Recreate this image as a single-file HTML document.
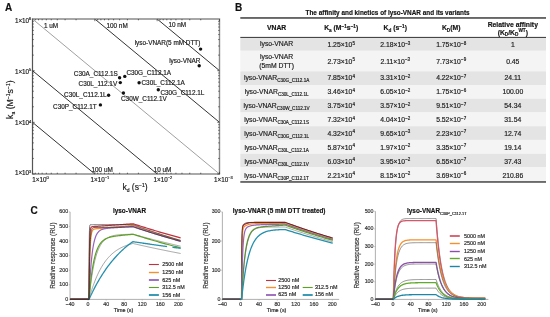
<!DOCTYPE html>
<html><head><meta charset="utf-8"><style>
html,body{margin:0;padding:0;background:#fff;width:550px;height:317px;overflow:hidden}
svg{display:block}
text{font-family:"Liberation Sans", sans-serif;stroke:#222;stroke-width:0.18px}
svg{will-change:transform}
</style></head><body>
<svg width="550" height="317" viewBox="0 0 550 317" font-family='"Liberation Sans", sans-serif'>
<text x="4.90" y="11.00" font-size="10" text-anchor="start" font-weight="bold" fill="#111" stroke="#111" >A</text>
<line x1="32.50" y1="19.00" x2="219.50" y2="174.00" stroke="#777" stroke-width="0.7"/>
<line x1="94.83" y1="19.00" x2="219.50" y2="122.33" stroke="#333" stroke-width="1.0"/>
<line x1="157.17" y1="19.00" x2="219.50" y2="70.67" stroke="#333" stroke-width="1.0"/>
<line x1="32.50" y1="70.67" x2="157.17" y2="174.00" stroke="#333" stroke-width="1.0"/>
<line x1="32.50" y1="122.33" x2="94.83" y2="174.00" stroke="#333" stroke-width="1.0"/>
<path d="M32.5,19.0H219.5V174.0" fill="none" stroke="#8a8a8a" stroke-width="1.4"/>
<path d="M32.5,18.4V174.0H220.1" fill="none" stroke="#555" stroke-width="1.2"/>
<path d="M94.83,174.0v-2.2M94.83,19.0v2.2M32.5,174.00h2.2M219.5,174.00h-2.2M76.07,174.0v-1.3M76.07,19.0v1.3M32.5,158.45h1.3M219.5,158.45h-1.3M65.09,174.0v-1.3M65.09,19.0v1.3M32.5,149.35h1.3M219.5,149.35h-1.3M57.30,174.0v-1.3M57.30,19.0v1.3M32.5,142.89h1.3M219.5,142.89h-1.3M51.26,174.0v-1.3M51.26,19.0v1.3M32.5,137.89h1.3M219.5,137.89h-1.3M46.33,174.0v-1.3M46.33,19.0v1.3M32.5,133.80h1.3M219.5,133.80h-1.3M42.16,174.0v-1.3M42.16,19.0v1.3M32.5,130.34h1.3M219.5,130.34h-1.3M38.54,174.0v-1.3M38.54,19.0v1.3M32.5,127.34h1.3M219.5,127.34h-1.3M35.35,174.0v-1.3M35.35,19.0v1.3M32.5,124.70h1.3M219.5,124.70h-1.3M157.17,174.0v-2.2M157.17,19.0v2.2M32.5,122.33h2.2M219.5,122.33h-2.2M138.40,174.0v-1.3M138.40,19.0v1.3M32.5,106.78h1.3M219.5,106.78h-1.3M127.43,174.0v-1.3M127.43,19.0v1.3M32.5,97.68h1.3M219.5,97.68h-1.3M119.64,174.0v-1.3M119.64,19.0v1.3M32.5,91.23h1.3M219.5,91.23h-1.3M113.60,174.0v-1.3M113.60,19.0v1.3M32.5,86.22h1.3M219.5,86.22h-1.3M108.66,174.0v-1.3M108.66,19.0v1.3M32.5,82.13h1.3M219.5,82.13h-1.3M104.49,174.0v-1.3M104.49,19.0v1.3M32.5,78.67h1.3M219.5,78.67h-1.3M100.87,174.0v-1.3M100.87,19.0v1.3M32.5,75.67h1.3M219.5,75.67h-1.3M97.69,174.0v-1.3M97.69,19.0v1.3M32.5,73.03h1.3M219.5,73.03h-1.3M219.50,174.0v-2.2M219.50,19.0v2.2M32.5,70.67h2.2M219.5,70.67h-2.2M200.74,174.0v-1.3M200.74,19.0v1.3M32.5,55.11h1.3M219.5,55.11h-1.3M189.76,174.0v-1.3M189.76,19.0v1.3M32.5,46.02h1.3M219.5,46.02h-1.3M181.97,174.0v-1.3M181.97,19.0v1.3M32.5,39.56h1.3M219.5,39.56h-1.3M175.93,174.0v-1.3M175.93,19.0v1.3M32.5,34.55h1.3M219.5,34.55h-1.3M171.00,174.0v-1.3M171.00,19.0v1.3M32.5,30.46h1.3M219.5,30.46h-1.3M166.82,174.0v-1.3M166.82,19.0v1.3M32.5,27.00h1.3M219.5,27.00h-1.3M163.21,174.0v-1.3M163.21,19.0v1.3M32.5,24.01h1.3M219.5,24.01h-1.3M160.02,174.0v-1.3M160.02,19.0v1.3M32.5,21.36h1.3M219.5,21.36h-1.3" stroke="#333" stroke-width="0.7" fill="none"/>
<text x="31.30" y="22.70" font-size="6.3" text-anchor="end" font-weight="normal" fill="#222" stroke="#222" >1×10<tspan dy="-2.4" font-size="4.0">6</tspan></text>
<text x="31.30" y="73.50" font-size="6.3" text-anchor="end" font-weight="normal" fill="#222" stroke="#222" >1×10<tspan dy="-2.4" font-size="4.0">5</tspan></text>
<text x="31.30" y="125.30" font-size="6.3" text-anchor="end" font-weight="normal" fill="#222" stroke="#222" >1×10<tspan dy="-2.4" font-size="4.0">4</tspan></text>
<text x="31.30" y="175.10" font-size="6.3" text-anchor="end" font-weight="normal" fill="#222" stroke="#222" >1×10<tspan dy="-2.4" font-size="4.0">3</tspan></text>
<text x="32.30" y="181.80" font-size="6.3" text-anchor="start" font-weight="normal" fill="#222" stroke="#222" >1×10<tspan dy="-2.4" font-size="4.0">0</tspan></text>
<text x="90.50" y="181.80" font-size="6.3" text-anchor="start" font-weight="normal" fill="#222" stroke="#222" >1×10<tspan dy="-2.4" font-size="4.0">−1</tspan></text>
<text x="153.60" y="181.80" font-size="6.3" text-anchor="start" font-weight="normal" fill="#222" stroke="#222" >1×10<tspan dy="-2.4" font-size="4.0">−2</tspan></text>
<text x="214.00" y="181.80" font-size="6.3" text-anchor="start" font-weight="normal" fill="#222" stroke="#222" >1×10<tspan dy="-2.4" font-size="4.0">−3</tspan></text>
<text x="122.40" y="190.00" font-size="8.6" text-anchor="start" font-weight="normal" fill="#222" stroke="#222" >k<tspan dy="1.6" font-size="5.0">d</tspan><tspan dy="-1.6"> (s</tspan><tspan dy="-3.0" font-size="5.0">−1</tspan><tspan dy="3.0">)</tspan></text>
<text transform="translate(13.0,119.0) rotate(-90)" font-size="8.8" fill="#222">k<tspan dy="1.6" font-size="5.0">a</tspan><tspan dy="-1.6"> (M</tspan><tspan dy="-3.0" font-size="5.0">−1</tspan><tspan dy="3.0">s</tspan><tspan dy="-3.0" font-size="5.0">−1</tspan><tspan dy="3.0">)</tspan></text>
<text x="43.90" y="28.20" font-size="6.4" text-anchor="start" font-weight="normal" fill="#222" stroke="#222" >1 uM</text>
<text x="106.40" y="28.20" font-size="6.4" text-anchor="start" font-weight="normal" fill="#222" stroke="#222" >100 nM</text>
<text x="168.40" y="27.20" font-size="6.4" text-anchor="start" font-weight="normal" fill="#222" stroke="#222" >10 nM</text>
<text x="91.50" y="171.50" font-size="6.4" text-anchor="start" font-weight="normal" fill="#222" stroke="#222" >100 uM</text>
<text x="153.60" y="171.50" font-size="6.4" text-anchor="start" font-weight="normal" fill="#222" stroke="#222" >10 uM</text>
<circle cx="199.2" cy="65.8" r="1.7" fill="#111"/>
<circle cx="200.6" cy="49.1" r="1.7" fill="#111"/>
<circle cx="119.6" cy="77.7" r="1.7" fill="#111"/>
<circle cx="124.8" cy="76.4" r="1.7" fill="#111"/>
<circle cx="120.3" cy="82.6" r="1.7" fill="#111"/>
<circle cx="139.1" cy="82.7" r="1.7" fill="#111"/>
<circle cx="123.4" cy="93.0" r="1.7" fill="#111"/>
<circle cx="108.6" cy="95.2" r="1.7" fill="#111"/>
<circle cx="100.4" cy="104.9" r="1.7" fill="#111"/>
<circle cx="158.3" cy="89.7" r="1.7" fill="#111"/>
<text x="200.40" y="45.20" font-size="6.4" text-anchor="end" font-weight="normal" fill="#222" stroke="#222" >lyso-VNAR(5 mM DTT)</text>
<text x="200.40" y="63.40" font-size="6.4" text-anchor="end" font-weight="normal" fill="#222" stroke="#222" >lyso-VNAR</text>
<text x="117.80" y="75.70" font-size="6.4" text-anchor="end" font-weight="normal" fill="#222" stroke="#222" >C30A_C112.1S</text>
<text x="126.40" y="75.00" font-size="6.4" text-anchor="start" font-weight="normal" fill="#222" stroke="#222" >C30G_C112.1A</text>
<text x="117.20" y="85.60" font-size="6.4" text-anchor="end" font-weight="normal" fill="#222" stroke="#222" >C30L_112.1V</text>
<text x="141.50" y="84.80" font-size="6.4" text-anchor="start" font-weight="normal" fill="#222" stroke="#222" >C30L_C112.1A</text>
<text x="121.00" y="101.00" font-size="6.4" text-anchor="start" font-weight="normal" fill="#222" stroke="#222" >C30W_C112.1V</text>
<text x="106.60" y="97.00" font-size="6.4" text-anchor="end" font-weight="normal" fill="#222" stroke="#222" >C30L_C112.1L</text>
<text x="96.60" y="108.50" font-size="6.4" text-anchor="end" font-weight="normal" fill="#222" stroke="#222" >C30P_C112.1T</text>
<text x="160.40" y="94.80" font-size="6.4" text-anchor="start" font-weight="normal" fill="#222" stroke="#222" >C30G_C112.1L</text>
<text x="234.90" y="10.90" font-size="10" text-anchor="start" font-weight="bold" fill="#111" stroke="#111" >B</text>
<text x="387.60" y="14.50" font-size="6.4" text-anchor="middle" font-weight="bold" fill="#111" stroke="#111" >The affinity and kinetics of lyso-VNAR and its variants</text>
<rect x="240.3" y="37.80" width="305.7" height="13.00" fill="#e4e4e4"/>
<rect x="240.3" y="50.80" width="305.7" height="20.50" fill="#f4f4f4"/>
<rect x="240.3" y="71.30" width="305.7" height="13.72" fill="#e4e4e4"/>
<rect x="240.3" y="85.02" width="305.7" height="13.73" fill="#f4f4f4"/>
<rect x="240.3" y="98.75" width="305.7" height="13.72" fill="#e4e4e4"/>
<rect x="240.3" y="112.47" width="305.7" height="13.72" fill="#f4f4f4"/>
<rect x="240.3" y="126.20" width="305.7" height="13.73" fill="#e4e4e4"/>
<rect x="240.3" y="139.93" width="305.7" height="13.72" fill="#f4f4f4"/>
<rect x="240.3" y="153.65" width="305.7" height="13.73" fill="#e4e4e4"/>
<rect x="240.3" y="167.38" width="305.7" height="13.72" fill="#f4f4f4"/>
<rect x="240.3" y="17.0" width="305.7" height="1.9" fill="#666"/>
<rect x="240.3" y="36.9" width="305.7" height="1.0" fill="#333"/>
<rect x="240.3" y="181.1" width="305.7" height="1.7" fill="#5a5a5a"/>
<text x="276.60" y="30.40" font-size="6.8" text-anchor="middle" font-weight="bold" fill="#111" stroke="#111" >VNAR</text>
<text x="341.20" y="30.40" font-size="6.8" text-anchor="middle" font-weight="bold" fill="#111" stroke="#111" >K<tspan dy="1.7" font-size="4.7">a</tspan><tspan dy="-1.7"> (M</tspan><tspan dy="-2.4" font-size="4.7">−1</tspan><tspan dy="2.4">s</tspan><tspan dy="-2.4" font-size="4.7">−1</tspan><tspan dy="2.4">)</tspan></text>
<text x="395.30" y="30.40" font-size="6.8" text-anchor="middle" font-weight="bold" fill="#111" stroke="#111" >K<tspan dy="1.7" font-size="4.7">d</tspan><tspan dy="-1.7"> (s</tspan><tspan dy="-2.4" font-size="4.7">−1</tspan><tspan dy="2.4">)</tspan></text>
<text x="451.20" y="30.40" font-size="6.8" text-anchor="middle" font-weight="bold" fill="#111" stroke="#111" >K<tspan dy="1.7" font-size="4.7">D</tspan><tspan dy="-1.7">(M)</tspan></text>
<text x="512.80" y="26.70" font-size="6.8" text-anchor="middle" font-weight="bold" fill="#111" stroke="#111" >Relative affinity</text>
<text x="512.80" y="34.60" font-size="6.8" text-anchor="middle" font-weight="bold" fill="#111" stroke="#111" >(K<tspan dy="1.7" font-size="4.7">D</tspan><tspan dy="-1.7">/K</tspan><tspan dy="1.7" font-size="4.7">D</tspan><tspan dy="-4.1" font-size="4.7">WT</tspan><tspan dy="2.4">)</tspan></text>
<text x="276.60" y="46.45" font-size="6.8" text-anchor="middle" font-weight="normal" fill="#222" stroke="#222" >lyso-VNAR</text>
<text x="341.20" y="47.45" font-size="6.8" text-anchor="middle" font-weight="normal" fill="#222" stroke="#222" >1.25×10<tspan dx="0.2" dy="-2.5" font-size="4.5">5</tspan></text>
<text x="395.30" y="47.45" font-size="6.8" text-anchor="middle" font-weight="normal" fill="#222" stroke="#222" >2.18×10<tspan dx="0.2" dy="-2.5" font-size="4.5">−3</tspan></text>
<text x="451.20" y="47.45" font-size="6.8" text-anchor="middle" font-weight="normal" fill="#222" stroke="#222" >1.75×10<tspan dx="0.2" dy="-2.5" font-size="4.5">−8</tspan></text>
<text x="512.80" y="47.45" font-size="6.8" text-anchor="middle" font-weight="normal" fill="#222" stroke="#222" >1</text>
<text x="276.60" y="59.45" font-size="6.8" text-anchor="middle" font-weight="normal" fill="#222" stroke="#222" >lyso-VNAR</text>
<text x="276.60" y="67.65" font-size="6.8" text-anchor="middle" font-weight="normal" fill="#222" stroke="#222" >(5mM DTT)</text>
<text x="341.20" y="63.90" font-size="6.8" text-anchor="middle" font-weight="normal" fill="#222" stroke="#222" >2.73×10<tspan dx="0.2" dy="-2.5" font-size="4.5">5</tspan></text>
<text x="395.30" y="63.90" font-size="6.8" text-anchor="middle" font-weight="normal" fill="#222" stroke="#222" >2.11×10<tspan dx="0.2" dy="-2.5" font-size="4.5">−3</tspan></text>
<text x="451.20" y="63.90" font-size="6.8" text-anchor="middle" font-weight="normal" fill="#222" stroke="#222" >7.73×10<tspan dx="0.2" dy="-2.5" font-size="4.5">−9</tspan></text>
<text x="512.80" y="63.90" font-size="6.8" text-anchor="middle" font-weight="normal" fill="#222" stroke="#222" >0.45</text>
<text x="276.60" y="80.31" font-size="6.8" text-anchor="middle" font-weight="normal" fill="#222" stroke="#222" >lyso-VNAR<tspan dy="2.0" font-size="4.6">C30G_C112.1A</tspan></text>
<text x="341.20" y="80.31" font-size="6.8" text-anchor="middle" font-weight="normal" fill="#222" stroke="#222" >7.85×10<tspan dx="0.2" dy="-2.5" font-size="4.5">4</tspan></text>
<text x="395.30" y="80.31" font-size="6.8" text-anchor="middle" font-weight="normal" fill="#222" stroke="#222" >3.31×10<tspan dx="0.2" dy="-2.5" font-size="4.5">−2</tspan></text>
<text x="451.20" y="80.31" font-size="6.8" text-anchor="middle" font-weight="normal" fill="#222" stroke="#222" >4.22×10<tspan dx="0.2" dy="-2.5" font-size="4.5">−7</tspan></text>
<text x="512.80" y="80.31" font-size="6.8" text-anchor="middle" font-weight="normal" fill="#222" stroke="#222" >24.11</text>
<text x="276.60" y="94.22" font-size="6.8" text-anchor="middle" font-weight="normal" fill="#222" stroke="#222" >lyso-VNAR<tspan dy="2.0" font-size="4.6">C30L_C112.1L</tspan></text>
<text x="341.20" y="94.22" font-size="6.8" text-anchor="middle" font-weight="normal" fill="#222" stroke="#222" >3.46×10<tspan dx="0.2" dy="-2.5" font-size="4.5">4</tspan></text>
<text x="395.30" y="94.22" font-size="6.8" text-anchor="middle" font-weight="normal" fill="#222" stroke="#222" >6.05×10<tspan dx="0.2" dy="-2.5" font-size="4.5">−2</tspan></text>
<text x="451.20" y="94.22" font-size="6.8" text-anchor="middle" font-weight="normal" fill="#222" stroke="#222" >1.75×10<tspan dx="0.2" dy="-2.5" font-size="4.5">−6</tspan></text>
<text x="512.80" y="94.22" font-size="6.8" text-anchor="middle" font-weight="normal" fill="#222" stroke="#222" >100.00</text>
<text x="276.60" y="108.13" font-size="6.8" text-anchor="middle" font-weight="normal" fill="#222" stroke="#222" >lyso-VNAR<tspan dy="2.0" font-size="4.6">C30W_C112.1V</tspan></text>
<text x="341.20" y="108.13" font-size="6.8" text-anchor="middle" font-weight="normal" fill="#222" stroke="#222" >3.75×10<tspan dx="0.2" dy="-2.5" font-size="4.5">4</tspan></text>
<text x="395.30" y="108.13" font-size="6.8" text-anchor="middle" font-weight="normal" fill="#222" stroke="#222" >3.57×10<tspan dx="0.2" dy="-2.5" font-size="4.5">−2</tspan></text>
<text x="451.20" y="108.13" font-size="6.8" text-anchor="middle" font-weight="normal" fill="#222" stroke="#222" >9.51×10<tspan dx="0.2" dy="-2.5" font-size="4.5">−7</tspan></text>
<text x="512.80" y="108.13" font-size="6.8" text-anchor="middle" font-weight="normal" fill="#222" stroke="#222" >54.34</text>
<text x="276.60" y="122.04" font-size="6.8" text-anchor="middle" font-weight="normal" fill="#222" stroke="#222" >lyso-VNAR<tspan dy="2.0" font-size="4.6">C30A_C112.1S</tspan></text>
<text x="341.20" y="122.04" font-size="6.8" text-anchor="middle" font-weight="normal" fill="#222" stroke="#222" >7.32×10<tspan dx="0.2" dy="-2.5" font-size="4.5">4</tspan></text>
<text x="395.30" y="122.04" font-size="6.8" text-anchor="middle" font-weight="normal" fill="#222" stroke="#222" >4.04×10<tspan dx="0.2" dy="-2.5" font-size="4.5">−2</tspan></text>
<text x="451.20" y="122.04" font-size="6.8" text-anchor="middle" font-weight="normal" fill="#222" stroke="#222" >5.52×10<tspan dx="0.2" dy="-2.5" font-size="4.5">−7</tspan></text>
<text x="512.80" y="122.04" font-size="6.8" text-anchor="middle" font-weight="normal" fill="#222" stroke="#222" >31.54</text>
<text x="276.60" y="135.96" font-size="6.8" text-anchor="middle" font-weight="normal" fill="#222" stroke="#222" >lyso-VNAR<tspan dy="2.0" font-size="4.6">C30G_C112.1L</tspan></text>
<text x="341.20" y="135.96" font-size="6.8" text-anchor="middle" font-weight="normal" fill="#222" stroke="#222" >4.32×10<tspan dx="0.2" dy="-2.5" font-size="4.5">4</tspan></text>
<text x="395.30" y="135.96" font-size="6.8" text-anchor="middle" font-weight="normal" fill="#222" stroke="#222" >9.65×10<tspan dx="0.2" dy="-2.5" font-size="4.5">−3</tspan></text>
<text x="451.20" y="135.96" font-size="6.8" text-anchor="middle" font-weight="normal" fill="#222" stroke="#222" >2.23×10<tspan dx="0.2" dy="-2.5" font-size="4.5">−7</tspan></text>
<text x="512.80" y="135.96" font-size="6.8" text-anchor="middle" font-weight="normal" fill="#222" stroke="#222" >12.74</text>
<text x="276.60" y="149.87" font-size="6.8" text-anchor="middle" font-weight="normal" fill="#222" stroke="#222" >lyso-VNAR<tspan dy="2.0" font-size="4.6">C30L_C112.1A</tspan></text>
<text x="341.20" y="149.87" font-size="6.8" text-anchor="middle" font-weight="normal" fill="#222" stroke="#222" >5.87×10<tspan dx="0.2" dy="-2.5" font-size="4.5">4</tspan></text>
<text x="395.30" y="149.87" font-size="6.8" text-anchor="middle" font-weight="normal" fill="#222" stroke="#222" >1.97×10<tspan dx="0.2" dy="-2.5" font-size="4.5">−2</tspan></text>
<text x="451.20" y="149.87" font-size="6.8" text-anchor="middle" font-weight="normal" fill="#222" stroke="#222" >3.35×10<tspan dx="0.2" dy="-2.5" font-size="4.5">−7</tspan></text>
<text x="512.80" y="149.87" font-size="6.8" text-anchor="middle" font-weight="normal" fill="#222" stroke="#222" >19.14</text>
<text x="276.60" y="163.78" font-size="6.8" text-anchor="middle" font-weight="normal" fill="#222" stroke="#222" >lyso-VNAR<tspan dy="2.0" font-size="4.6">C30L_C112.1V</tspan></text>
<text x="341.20" y="163.78" font-size="6.8" text-anchor="middle" font-weight="normal" fill="#222" stroke="#222" >6.03×10<tspan dx="0.2" dy="-2.5" font-size="4.5">4</tspan></text>
<text x="395.30" y="163.78" font-size="6.8" text-anchor="middle" font-weight="normal" fill="#222" stroke="#222" >3.95×10<tspan dx="0.2" dy="-2.5" font-size="4.5">−2</tspan></text>
<text x="451.20" y="163.78" font-size="6.8" text-anchor="middle" font-weight="normal" fill="#222" stroke="#222" >6.55×10<tspan dx="0.2" dy="-2.5" font-size="4.5">−7</tspan></text>
<text x="512.80" y="163.78" font-size="6.8" text-anchor="middle" font-weight="normal" fill="#222" stroke="#222" >37.43</text>
<text x="276.60" y="177.69" font-size="6.8" text-anchor="middle" font-weight="normal" fill="#222" stroke="#222" >lyso-VNAR<tspan dy="2.0" font-size="4.6">C30P_C112.1T</tspan></text>
<text x="341.20" y="177.69" font-size="6.8" text-anchor="middle" font-weight="normal" fill="#222" stroke="#222" >2.21×10<tspan dx="0.2" dy="-2.5" font-size="4.5">4</tspan></text>
<text x="395.30" y="177.69" font-size="6.8" text-anchor="middle" font-weight="normal" fill="#222" stroke="#222" >8.15×10<tspan dx="0.2" dy="-2.5" font-size="4.5">−2</tspan></text>
<text x="451.20" y="177.69" font-size="6.8" text-anchor="middle" font-weight="normal" fill="#222" stroke="#222" >3.69×10<tspan dx="0.2" dy="-2.5" font-size="4.5">−6</tspan></text>
<text x="512.80" y="177.69" font-size="6.8" text-anchor="middle" font-weight="normal" fill="#222" stroke="#222" >210.86</text>
<text x="30.40" y="213.80" font-size="10" text-anchor="start" font-weight="bold" fill="#111" stroke="#111" >C</text>
<path d="M70.05,211.86V299.40H185.13" stroke="#9a9a9a" stroke-width="0.8" fill="none"/>
<text x="68.15" y="300.90" font-size="5.3" text-anchor="end" font-weight="normal" fill="#484848" stroke="#484848" >0</text>
<text x="68.15" y="286.31" font-size="5.3" text-anchor="end" font-weight="normal" fill="#484848" stroke="#484848" >100</text>
<text x="68.15" y="271.72" font-size="5.3" text-anchor="end" font-weight="normal" fill="#484848" stroke="#484848" >200</text>
<text x="68.15" y="257.13" font-size="5.3" text-anchor="end" font-weight="normal" fill="#484848" stroke="#484848" >300</text>
<text x="68.15" y="242.54" font-size="5.3" text-anchor="end" font-weight="normal" fill="#484848" stroke="#484848" >400</text>
<text x="68.15" y="227.95" font-size="5.3" text-anchor="end" font-weight="normal" fill="#484848" stroke="#484848" >500</text>
<text x="68.15" y="213.36" font-size="5.3" text-anchor="end" font-weight="normal" fill="#484848" stroke="#484848" >600</text>
<text x="70.05" y="305.70" font-size="5.3" text-anchor="middle" font-weight="normal" fill="#484848" stroke="#484848" >−40</text>
<text x="88.10" y="305.70" font-size="5.3" text-anchor="middle" font-weight="normal" fill="#484848" stroke="#484848" >0</text>
<text x="106.15" y="305.70" font-size="5.3" text-anchor="middle" font-weight="normal" fill="#484848" stroke="#484848" >40</text>
<text x="124.20" y="305.70" font-size="5.3" text-anchor="middle" font-weight="normal" fill="#484848" stroke="#484848" >80</text>
<text x="142.26" y="305.70" font-size="5.3" text-anchor="middle" font-weight="normal" fill="#484848" stroke="#484848" >120</text>
<text x="160.31" y="305.70" font-size="5.3" text-anchor="middle" font-weight="normal" fill="#484848" stroke="#484848" >160</text>
<text x="178.36" y="305.70" font-size="5.3" text-anchor="middle" font-weight="normal" fill="#484848" stroke="#484848" >200</text>
<path d="M70.05,299.40h-1.2M70.05,284.81h-1.2M70.05,270.22h-1.2M70.05,255.63h-1.2M70.05,241.04h-1.2M70.05,226.45h-1.2M70.05,211.86h-1.2M70.05,299.40v1.2M88.10,299.40v1.2M106.15,299.40v1.2M124.20,299.40v1.2M142.26,299.40v1.2M160.31,299.40v1.2M178.36,299.40v1.2" stroke="#9a9a9a" stroke-width="0.5" fill="none"/>
<text x="123.50" y="311.80" font-size="5.4" text-anchor="middle" font-weight="normal" fill="#333" stroke="#333" >Time (s)</text>
<text transform="translate(54.60,255.63) rotate(-90)" font-size="6.4" text-anchor="middle" fill="#444" stroke="#444" stroke-width="0.1">Relative response (RU)</text>
<text x="129.5" y="212.5" font-size="6.4" font-weight="bold" text-anchor="middle" fill="#111">lyso-VNAR</text>
<path d="M70.05,299.40 L89.00,299.40 L89.12,283.35 L89.23,270.85 L89.34,261.12 L89.45,253.53 L89.57,247.62 L89.68,243.02 L89.79,239.43 L89.91,236.64 L90.02,234.46 L90.13,232.76 L90.24,231.43 L90.36,230.40 L90.47,229.59 L90.58,228.97 L90.69,228.47 L90.81,228.09 L90.92,227.79 L91.03,227.55 L91.15,227.36 L91.26,227.22 L91.37,227.10 L91.48,227.01 L91.60,226.93 L91.71,226.87 L91.82,226.83 L91.94,226.79 L92.05,226.76 L92.16,226.73 L92.27,226.71 L92.39,226.69 L92.50,226.67 L92.61,226.66 L92.73,226.64 L92.84,226.63 L92.95,226.62 L93.06,226.61 L93.18,226.60 L93.29,226.59 L93.40,226.58 L93.52,226.57 L93.97,226.54 L94.87,226.47 L95.77,226.41 L96.67,226.34 L97.58,226.28 L98.48,226.21 L99.38,226.15 L100.29,226.09 L101.19,226.02 L102.09,225.96 L102.99,225.89 L103.90,225.83 L104.80,225.76 L105.70,225.70 L106.60,225.64 L107.51,225.57 L108.41,225.51 L109.31,225.44 L110.21,225.38 L111.12,225.31 L112.02,225.25 L112.92,225.19 L113.82,225.12 L114.73,225.06 L115.63,224.99 L116.53,224.93 L117.43,224.87 L118.34,224.80 L119.24,224.74 L120.14,224.67 L121.04,224.61 L121.95,224.54 L122.85,224.48 L123.75,224.42 L124.66,224.35 L125.56,224.29 L126.46,224.22 L127.36,224.16 L128.27,224.10 L129.17,224.03 L130.07,223.97 L130.97,223.90 L131.88,223.84 L132.78,223.77 L133.46,223.85 L133.68,223.92 L134.13,224.07 L134.58,224.22 L135.49,224.52 L136.39,224.81 L137.29,225.10 L138.19,225.40 L139.10,225.69 L140.00,225.98 L140.90,226.26 L141.80,226.55 L142.71,226.84 L143.61,227.12 L144.51,227.41 L145.42,227.69 L146.32,227.97 L147.22,228.25 L148.12,228.53 L149.03,228.81 L149.93,229.09 L150.83,229.37 L151.73,229.64 L152.64,229.92 L153.54,230.19 L154.44,230.46 L155.34,230.73 L156.25,231.00 L157.15,231.27 L158.05,231.54 L158.95,231.81 L159.86,232.07 L160.76,232.34 L161.66,232.60 L162.56,232.86 L163.47,233.13 L164.37,233.39 L165.27,233.65 L166.17,233.90 L167.08,234.16 L167.98,234.42 L168.88,234.67 L169.79,234.93 L170.69,235.18 L171.59,235.43 L172.49,235.69 L173.40,235.94 L174.30,236.19 L175.20,236.43 L176.10,236.68 L177.01,236.93 L177.91,237.17 L178.81,237.42 L179.71,237.66 L180.62,237.91" stroke="#c2323e" stroke-width="1.2" fill="none" stroke-linejoin="round"/>
<path d="M70.05,299.40 L89.00,299.40 L89.12,291.16 L89.23,283.89 L89.34,277.47 L89.45,271.81 L89.57,266.80 L89.68,262.39 L89.79,258.49 L89.91,255.05 L90.02,252.02 L90.13,249.33 L90.24,246.97 L90.36,244.88 L90.47,243.03 L90.58,241.40 L90.69,239.96 L90.81,238.69 L90.92,237.56 L91.03,236.57 L91.15,235.69 L91.26,234.92 L91.37,234.23 L91.48,233.63 L91.60,233.09 L91.71,232.62 L91.82,232.20 L91.94,231.83 L92.05,231.50 L92.16,231.21 L92.27,230.95 L92.39,230.72 L92.50,230.52 L92.61,230.34 L92.73,230.17 L92.84,230.03 L92.95,229.90 L93.06,229.79 L93.18,229.69 L93.29,229.60 L93.40,229.52 L93.52,229.45 L93.97,229.22 L94.87,228.96 L95.77,228.82 L96.67,228.71 L97.58,228.62 L98.48,228.54 L99.38,228.46 L100.29,228.38 L101.19,228.30 L102.09,228.23 L102.99,228.15 L103.90,228.07 L104.80,227.99 L105.70,227.91 L106.60,227.83 L107.51,227.75 L108.41,227.67 L109.31,227.60 L110.21,227.52 L111.12,227.44 L112.02,227.36 L112.92,227.28 L113.82,227.20 L114.73,227.12 L115.63,227.04 L116.53,226.97 L117.43,226.89 L118.34,226.81 L119.24,226.73 L120.14,226.65 L121.04,226.57 L121.95,226.49 L122.85,226.41 L123.75,226.33 L124.66,226.26 L125.56,226.18 L126.46,226.10 L127.36,226.02 L128.27,225.94 L129.17,225.86 L130.07,225.78 L130.97,225.70 L131.88,225.63 L132.78,225.55 L133.46,225.63 L133.68,225.71 L134.13,225.87 L134.58,226.02 L135.49,226.34 L136.39,226.66 L137.29,226.97 L138.19,227.28 L139.10,227.59 L140.00,227.90 L140.90,228.21 L141.80,228.52 L142.71,228.82 L143.61,229.13 L144.51,229.43 L145.42,229.73 L146.32,230.03 L147.22,230.33 L148.12,230.63 L149.03,230.92 L149.93,231.22 L150.83,231.51 L151.73,231.81 L152.64,232.10 L153.54,232.39 L154.44,232.68 L155.34,232.96 L156.25,233.25 L157.15,233.54 L158.05,233.82 L158.95,234.10 L159.86,234.38 L160.76,234.66 L161.66,234.94 L162.56,235.22 L163.47,235.50 L164.37,235.77 L165.27,236.05 L166.17,236.32 L167.08,236.59 L167.98,236.86 L168.88,237.13 L169.79,237.40 L170.69,237.67 L171.59,237.93 L172.49,238.20 L173.40,238.46 L174.30,238.73 L175.20,238.99 L176.10,239.25 L177.01,239.51 L177.91,239.77 L178.81,240.02 L179.71,240.28 L180.62,240.53" stroke="#f5902f" stroke-width="1.2" fill="none" stroke-linejoin="round"/>
<path d="M70.05,299.40 L89.00,299.40 L89.12,296.82 L89.23,294.33 L89.34,291.93 L89.45,289.62 L89.57,287.39 L89.68,285.25 L89.79,283.18 L89.91,281.19 L90.02,279.27 L90.13,277.43 L90.24,275.65 L90.36,273.93 L90.47,272.28 L90.58,270.69 L90.69,269.16 L90.81,267.69 L90.92,266.26 L91.03,264.89 L91.15,263.57 L91.26,262.30 L91.37,261.08 L91.48,259.90 L91.60,258.76 L91.71,257.67 L91.82,256.61 L91.94,255.59 L92.05,254.61 L92.16,253.67 L92.27,252.76 L92.39,251.89 L92.50,251.04 L92.61,250.23 L92.73,249.44 L92.84,248.69 L92.95,247.96 L93.06,247.26 L93.18,246.58 L93.29,245.93 L93.40,245.31 L93.52,244.70 L93.97,242.50 L94.87,238.95 L95.77,236.31 L96.67,234.34 L97.58,232.86 L98.48,231.76 L99.38,230.92 L100.29,230.29 L101.19,229.80 L102.09,229.43 L102.99,229.13 L103.90,228.90 L104.80,228.71 L105.70,228.56 L106.60,228.43 L107.51,228.32 L108.41,228.22 L109.31,228.14 L110.21,228.06 L111.12,227.98 L112.02,227.91 L112.92,227.85 L113.82,227.78 L114.73,227.72 L115.63,227.66 L116.53,227.60 L117.43,227.54 L118.34,227.48 L119.24,227.42 L120.14,227.36 L121.04,227.30 L121.95,227.24 L122.85,227.18 L123.75,227.12 L124.66,227.06 L125.56,227.00 L126.46,226.95 L127.36,226.89 L128.27,226.83 L129.17,226.77 L130.07,226.71 L130.97,226.65 L131.88,226.60 L132.78,226.54 L133.46,226.62 L133.68,226.69 L134.13,226.85 L134.58,227.01 L135.49,227.32 L136.39,227.63 L137.29,227.94 L138.19,228.25 L139.10,228.56 L140.00,228.86 L140.90,229.16 L141.80,229.47 L142.71,229.77 L143.61,230.07 L144.51,230.37 L145.42,230.67 L146.32,230.96 L147.22,231.26 L148.12,231.55 L149.03,231.84 L149.93,232.13 L150.83,232.42 L151.73,232.71 L152.64,233.00 L153.54,233.29 L154.44,233.57 L155.34,233.86 L156.25,234.14 L157.15,234.42 L158.05,234.70 L158.95,234.98 L159.86,235.26 L160.76,235.53 L161.66,235.81 L162.56,236.08 L163.47,236.35 L164.37,236.63 L165.27,236.90 L166.17,237.17 L167.08,237.43 L167.98,237.70 L168.88,237.97 L169.79,238.23 L170.69,238.50 L171.59,238.76 L172.49,239.02 L173.40,239.28 L174.30,239.54 L175.20,239.80 L176.10,240.05 L177.01,240.31 L177.91,240.57 L178.81,240.82 L179.71,241.07 L180.62,241.32" stroke="#9663b8" stroke-width="1.2" fill="none" stroke-linejoin="round"/>
<path d="M70.05,299.40 L89.00,299.40 L89.12,298.27 L89.23,297.16 L89.34,296.06 L89.45,294.99 L89.57,293.94 L89.68,292.90 L89.79,291.88 L89.91,290.88 L90.02,289.90 L90.13,288.93 L90.24,287.98 L90.36,287.05 L90.47,286.13 L90.58,285.23 L90.69,284.34 L90.81,283.47 L90.92,282.62 L91.03,281.78 L91.15,280.95 L91.26,280.14 L91.37,279.34 L91.48,278.56 L91.60,277.79 L91.71,277.03 L91.82,276.29 L91.94,275.56 L92.05,274.84 L92.16,274.14 L92.27,273.44 L92.39,272.76 L92.50,272.09 L92.61,271.44 L92.73,270.79 L92.84,270.15 L92.95,269.53 L93.06,268.92 L93.18,268.31 L93.29,267.72 L93.40,267.14 L93.52,266.57 L93.97,264.38 L94.87,260.43 L95.77,257.00 L96.67,254.02 L97.58,251.43 L98.48,249.18 L99.38,247.22 L100.29,245.52 L101.19,244.04 L102.09,242.75 L102.99,241.63 L103.90,240.66 L104.80,239.81 L105.70,239.08 L106.60,238.44 L107.51,237.88 L108.41,237.40 L109.31,236.98 L110.21,236.61 L111.12,236.29 L112.02,236.02 L112.92,235.78 L113.82,235.57 L114.73,235.39 L115.63,235.23 L116.53,235.09 L117.43,234.98 L118.34,234.87 L119.24,234.78 L120.14,234.70 L121.04,234.64 L121.95,234.58 L122.85,234.52 L123.75,234.48 L124.66,234.44 L125.56,234.41 L126.46,234.38 L127.36,234.35 L128.27,234.33 L129.17,234.31 L130.07,234.29 L130.97,234.28 L131.88,234.27 L132.78,234.26 L133.46,234.32 L133.68,234.38 L134.13,234.51 L134.58,234.63 L135.49,234.88 L136.39,235.13 L137.29,235.38 L138.19,235.62 L139.10,235.87 L140.00,236.11 L140.90,236.36 L141.80,236.60 L142.71,236.84 L143.61,237.08 L144.51,237.32 L145.42,237.56 L146.32,237.80 L147.22,238.04 L148.12,238.28 L149.03,238.51 L149.93,238.75 L150.83,238.98 L151.73,239.21 L152.64,239.44 L153.54,239.68 L154.44,239.91 L155.34,240.13 L156.25,240.36 L157.15,240.59 L158.05,240.82 L158.95,241.04 L159.86,241.27 L160.76,241.49 L161.66,241.71 L162.56,241.94 L163.47,242.16 L164.37,242.38 L165.27,242.60 L166.17,242.82 L167.08,243.03 L167.98,243.25 L168.88,243.47 L169.79,243.68 L170.69,243.90 L171.59,244.11 L172.49,244.33 L173.40,244.54 L174.30,244.75 L175.20,244.96 L176.10,245.17 L177.01,245.38 L177.91,245.59 L178.81,245.79 L179.71,246.00 L180.62,246.21" stroke="#6a6a6a" stroke-width="0.6" fill="none" stroke-linejoin="round"/>
<path d="M70.05,299.40 L89.00,299.40 L89.12,298.03 L89.23,296.68 L89.34,295.37 L89.45,294.09 L89.57,292.83 L89.68,291.60 L89.79,290.40 L89.91,289.23 L90.02,288.08 L90.13,286.95 L90.24,285.86 L90.36,284.78 L90.47,283.73 L90.58,282.70 L90.69,281.70 L90.81,280.72 L90.92,279.76 L91.03,278.82 L91.15,277.90 L91.26,277.00 L91.37,276.12 L91.48,275.26 L91.60,274.42 L91.71,273.60 L91.82,272.79 L91.94,272.00 L92.05,271.23 L92.16,270.48 L92.27,269.75 L92.39,269.03 L92.50,268.32 L92.61,267.63 L92.73,266.96 L92.84,266.30 L92.95,265.66 L93.06,265.03 L93.18,264.41 L93.29,263.81 L93.40,263.22 L93.52,262.64 L93.97,260.46 L94.87,256.63 L95.77,253.42 L96.67,250.72 L97.58,248.46 L98.48,246.55 L99.38,244.95 L100.29,243.60 L101.19,242.45 L102.09,241.49 L102.99,240.66 L103.90,239.97 L104.80,239.37 L105.70,238.86 L106.60,238.42 L107.51,238.04 L108.41,237.71 L109.31,237.42 L110.21,237.16 L111.12,236.94 L112.02,236.74 L112.92,236.55 L113.82,236.39 L114.73,236.24 L115.63,236.10 L116.53,235.97 L117.43,235.85 L118.34,235.74 L119.24,235.63 L120.14,235.53 L121.04,235.43 L121.95,235.33 L122.85,235.24 L123.75,235.15 L124.66,235.06 L125.56,234.97 L126.46,234.89 L127.36,234.80 L128.27,234.72 L129.17,234.64 L130.07,234.55 L130.97,234.47 L131.88,234.39 L132.78,234.31 L133.46,234.38 L133.68,234.46 L134.13,234.60 L134.58,234.74 L135.49,235.03 L136.39,235.31 L137.29,235.60 L138.19,235.88 L139.10,236.16 L140.00,236.44 L140.90,236.72 L141.80,237.00 L142.71,237.28 L143.61,237.55 L144.51,237.82 L145.42,238.10 L146.32,238.37 L147.22,238.64 L148.12,238.91 L149.03,239.18 L149.93,239.44 L150.83,239.71 L151.73,239.97 L152.64,240.24 L153.54,240.50 L154.44,240.76 L155.34,241.02 L156.25,241.28 L157.15,241.54 L158.05,241.79 L158.95,242.05 L159.86,242.30 L160.76,242.55 L161.66,242.81 L162.56,243.06 L163.47,243.31 L164.37,243.56 L165.27,243.80 L166.17,244.05 L167.08,244.29 L167.98,244.54 L168.88,244.78 L169.79,245.02 L170.69,245.26 L171.59,245.50 L172.49,245.74 L173.40,245.98 L174.30,246.22 L175.20,246.45 L176.10,246.69 L177.01,246.92 L177.91,247.15 L178.81,247.38 L179.71,247.62 L180.62,247.84" stroke="#5ca024" stroke-width="1.2" fill="none" stroke-linejoin="round"/>
<path d="M70.05,299.40 L89.00,299.40 L89.12,298.98 L89.23,298.57 L89.34,298.16 L89.45,297.75 L89.57,297.34 L89.68,296.94 L89.79,296.54 L89.91,296.14 L90.02,295.75 L90.13,295.36 L90.24,294.97 L90.36,294.58 L90.47,294.20 L90.58,293.82 L90.69,293.44 L90.81,293.06 L90.92,292.69 L91.03,292.32 L91.15,291.95 L91.26,291.59 L91.37,291.22 L91.48,290.86 L91.60,290.50 L91.71,290.15 L91.82,289.80 L91.94,289.45 L92.05,289.10 L92.16,288.75 L92.27,288.41 L92.39,288.07 L92.50,287.73 L92.61,287.40 L92.73,287.06 L92.84,286.73 L92.95,286.40 L93.06,286.08 L93.18,285.75 L93.29,285.43 L93.40,285.11 L93.52,284.79 L93.97,283.54 L94.87,281.15 L95.77,278.88 L96.67,276.74 L97.58,274.72 L98.48,272.81 L99.38,271.00 L100.29,269.29 L101.19,267.67 L102.09,266.14 L102.99,264.69 L103.90,263.32 L104.80,262.03 L105.70,260.81 L106.60,259.65 L107.51,258.56 L108.41,257.53 L109.31,256.55 L110.21,255.62 L111.12,254.75 L112.02,253.92 L112.92,253.14 L113.82,252.41 L114.73,251.71 L115.63,251.05 L116.53,250.42 L117.43,249.83 L118.34,249.27 L119.24,248.75 L120.14,248.25 L121.04,247.77 L121.95,247.33 L122.85,246.91 L123.75,246.51 L124.66,246.13 L125.56,245.77 L126.46,245.44 L127.36,245.12 L128.27,244.82 L129.17,244.53 L130.07,244.26 L130.97,244.01 L131.88,243.77 L132.78,243.54 L133.46,243.59 L133.68,243.64 L134.13,243.75 L134.58,243.85 L135.49,244.06 L136.39,244.26 L137.29,244.47 L138.19,244.67 L139.10,244.88 L140.00,245.08 L140.90,245.29 L141.80,245.49 L142.71,245.69 L143.61,245.89 L144.51,246.09 L145.42,246.29 L146.32,246.49 L147.22,246.68 L148.12,246.88 L149.03,247.08 L149.93,247.27 L150.83,247.47 L151.73,247.66 L152.64,247.85 L153.54,248.05 L154.44,248.24 L155.34,248.43 L156.25,248.62 L157.15,248.81 L158.05,249.00 L158.95,249.19 L159.86,249.37 L160.76,249.56 L161.66,249.75 L162.56,249.93 L163.47,250.12 L164.37,250.30 L165.27,250.48 L166.17,250.67 L167.08,250.85 L167.98,251.03 L168.88,251.21 L169.79,251.39 L170.69,251.57 L171.59,251.75 L172.49,251.92 L173.40,252.10 L174.30,252.28 L175.20,252.45 L176.10,252.63 L177.01,252.80 L177.91,252.98 L178.81,253.15 L179.71,253.32 L180.62,253.50" stroke="#6a6a6a" stroke-width="0.6" fill="none" stroke-linejoin="round"/>
<path d="M70.05,299.40 L89.00,299.40 L89.12,299.15 L89.23,298.90 L89.34,298.65 L89.45,298.41 L89.57,298.16 L89.68,297.92 L89.79,297.67 L89.91,297.43 L90.02,297.18 L90.13,296.94 L90.24,296.70 L90.36,296.46 L90.47,296.22 L90.58,295.98 L90.69,295.74 L90.81,295.50 L90.92,295.26 L91.03,295.02 L91.15,294.79 L91.26,294.55 L91.37,294.32 L91.48,294.08 L91.60,293.85 L91.71,293.62 L91.82,293.38 L91.94,293.15 L92.05,292.92 L92.16,292.69 L92.27,292.46 L92.39,292.23 L92.50,292.00 L92.61,291.78 L92.73,291.55 L92.84,291.32 L92.95,291.10 L93.06,290.87 L93.18,290.65 L93.29,290.43 L93.40,290.20 L93.52,289.98 L93.97,289.10 L94.87,287.37 L95.77,285.67 L96.67,284.02 L97.58,282.40 L98.48,280.83 L99.38,279.29 L100.29,277.78 L101.19,276.31 L102.09,274.88 L102.99,273.48 L103.90,272.11 L104.80,270.77 L105.70,269.46 L106.60,268.19 L107.51,266.94 L108.41,265.73 L109.31,264.54 L110.21,263.38 L111.12,262.24 L112.02,261.14 L112.92,260.05 L113.82,259.00 L114.73,257.97 L115.63,256.96 L116.53,255.98 L117.43,255.02 L118.34,254.08 L119.24,253.16 L120.14,252.27 L121.04,251.39 L121.95,250.54 L122.85,249.70 L123.75,248.89 L124.66,248.09 L125.56,247.32 L126.46,246.56 L127.36,245.82 L128.27,245.09 L129.17,244.38 L130.07,243.69 L130.97,243.02 L131.88,242.36 L132.78,241.72 L133.46,241.75 L133.68,241.78 L134.13,241.85 L134.58,241.92 L135.49,242.05 L136.39,242.18 L137.29,242.32 L138.19,242.45 L139.10,242.58 L140.00,242.71 L140.90,242.84 L141.80,242.97 L142.71,243.11 L143.61,243.24 L144.51,243.37 L145.42,243.50 L146.32,243.63 L147.22,243.75 L148.12,243.88 L149.03,244.01 L149.93,244.14 L150.83,244.27 L151.73,244.40 L152.64,244.52 L153.54,244.65 L154.44,244.78 L155.34,244.90 L156.25,245.03 L157.15,245.16 L158.05,245.28 L158.95,245.41 L159.86,245.53 L160.76,245.66 L161.66,245.78 L162.56,245.91 L163.47,246.03 L164.37,246.15 L165.27,246.28 L166.17,246.40 L167.08,246.52M172.49,247.25 L173.40,247.38 L174.30,247.50 L175.20,247.62 L176.10,247.74 L177.01,247.86 L177.91,247.98 L178.81,248.09 L179.71,248.21 L180.62,248.33" stroke="#2590ad" stroke-width="1.3" fill="none" stroke-linejoin="round"/>
<path d="M70.05,299.40 L89.00,299.40 L89.12,264.68 L89.23,246.10 L89.34,236.15 L89.45,230.83 L89.57,227.98 L89.68,226.46 L89.79,225.64 L89.91,225.20 L90.02,224.97 L90.13,224.84 L90.24,224.78 L90.36,224.74 L90.47,224.72 L90.58,224.71 L90.69,224.71 L90.81,224.70 L90.92,224.70 L91.03,224.70 L91.15,224.70 L91.26,224.70 L91.37,224.70 L91.48,224.70 L91.60,224.70 L91.71,224.70 L91.82,224.70 L91.94,224.70 L92.05,224.70 L92.16,224.70 L92.27,224.70 L92.39,224.70 L92.50,224.70 L92.61,224.70 L92.73,224.70 L92.84,224.70 L92.95,224.70 L93.06,224.70 L93.18,224.70 L93.29,224.70 L93.40,224.70 L93.52,224.70 L93.97,224.70 L94.87,224.70 L95.77,224.70 L96.67,224.70 L97.58,224.70 L98.48,224.70 L99.38,224.70 L100.29,224.70 L101.19,224.70 L102.09,224.70 L102.99,224.70 L103.90,224.70 L104.80,224.70 L105.70,224.70 L106.60,224.70 L107.51,224.70 L108.41,224.70 L109.31,224.70 L110.21,224.70 L111.12,224.70 L112.02,224.70 L112.92,224.70 L113.82,224.70 L114.73,224.70 L115.63,224.70 L116.53,224.70 L117.43,224.70 L118.34,224.70 L119.24,224.70 L120.14,224.70 L121.04,224.70 L121.95,224.70 L122.85,224.70 L123.75,224.70 L124.66,224.70 L125.56,224.70 L126.46,224.70 L127.36,224.70 L128.27,224.70 L129.17,224.70 L130.07,224.70 L130.97,224.70 L131.88,224.70 L132.78,224.70 L133.46,224.78 L133.68,224.87 L134.13,225.03 L134.58,225.20 L135.49,225.53 L136.39,225.87 L137.29,226.20 L138.19,226.53 L139.10,226.85 L140.00,227.18 L140.90,227.50 L141.80,227.83 L142.71,228.15 L143.61,228.47 L144.51,228.79 L145.42,229.10 L146.32,229.42 L147.22,229.73 L148.12,230.04 L149.03,230.36 L149.93,230.67 L150.83,230.97 L151.73,231.28 L152.64,231.59 L153.54,231.89 L154.44,232.20 L155.34,232.50 L156.25,232.80 L157.15,233.10 L158.05,233.39 L158.95,233.69 L159.86,233.99 L160.76,234.28 L161.66,234.57 L162.56,234.86 L163.47,235.15 L164.37,235.44 L165.27,235.73 L166.17,236.01 L167.08,236.30 L167.98,236.58 L168.88,236.86 L169.79,237.14 L170.69,237.42 L171.59,237.70 L172.49,237.98 L173.40,238.26 L174.30,238.53 L175.20,238.80 L176.10,239.08 L177.01,239.35 L177.91,239.62 L178.81,239.88 L179.71,240.15 L180.62,240.42" stroke="#333333" stroke-width="0.7" fill="none" stroke-linejoin="round"/>
<path d="M70.05,299.40 L89.00,299.40 L89.12,289.40 L89.23,280.79 L89.34,273.38 L89.45,267.01 L89.57,261.52 L89.68,256.79 L89.79,252.72 L89.91,249.22 L90.02,246.21 L90.13,243.62 L90.24,241.38 L90.36,239.46 L90.47,237.81 L90.58,236.38 L90.69,235.16 L90.81,234.10 L90.92,233.19 L91.03,232.41 L91.15,231.73 L91.26,231.15 L91.37,230.65 L91.48,230.22 L91.60,229.85 L91.71,229.53 L91.82,229.26 L91.94,229.02 L92.05,228.82 L92.16,228.64 L92.27,228.49 L92.39,228.36 L92.50,228.25 L92.61,228.15 L92.73,228.07 L92.84,227.99 L92.95,227.93 L93.06,227.88 L93.18,227.83 L93.29,227.79 L93.40,227.75 L93.52,227.72 L93.97,227.63 L94.87,227.55 L95.77,227.52 L96.67,227.50 L97.58,227.48 L98.48,227.46 L99.38,227.45 L100.29,227.43 L101.19,227.42 L102.09,227.41 L102.99,227.39 L103.90,227.38 L104.80,227.36 L105.70,227.35 L106.60,227.33 L107.51,227.32 L108.41,227.30 L109.31,227.29 L110.21,227.27 L111.12,227.26 L112.02,227.25 L112.92,227.23 L113.82,227.22 L114.73,227.20 L115.63,227.19 L116.53,227.17 L117.43,227.16 L118.34,227.14 L119.24,227.13 L120.14,227.11 L121.04,227.10 L121.95,227.08 L122.85,227.07 L123.75,227.06 L124.66,227.04 L125.56,227.03 L126.46,227.01 L127.36,227.00 L128.27,226.98 L129.17,226.97 L130.07,226.95 L130.97,226.94 L131.88,226.92 L132.78,226.91 L133.46,226.99 L133.68,227.06 L134.13,227.21 L134.58,227.36 L135.49,227.67 L136.39,227.97 L137.29,228.27 L138.19,228.56 L139.10,228.86 L140.00,229.16 L140.90,229.45 L141.80,229.75 L142.71,230.04 L143.61,230.33 L144.51,230.62 L145.42,230.91 L146.32,231.19 L147.22,231.48 L148.12,231.76 L149.03,232.05 L149.93,232.33 L150.83,232.61 L151.73,232.89 L152.64,233.17 L153.54,233.45 L154.44,233.72 L155.34,234.00 L156.25,234.27 L157.15,234.54 L158.05,234.82 L158.95,235.09 L159.86,235.36 L160.76,235.63 L161.66,235.89 L162.56,236.16 L163.47,236.42 L164.37,236.69 L165.27,236.95 L166.17,237.21 L167.08,237.47 L167.98,237.73 L168.88,237.99 L169.79,238.25 L170.69,238.50 L171.59,238.76 L172.49,239.01 L173.40,239.27 L174.30,239.52 L175.20,239.77 L176.10,240.02 L177.01,240.27 L177.91,240.52 L178.81,240.76 L179.71,241.01 L180.62,241.25" stroke="#3a2a2a" stroke-width="0.8" fill="none" stroke-linejoin="round"/>
<path d="M70.05,299.10H88.10" stroke="#5b2a2e" stroke-width="1.1"/>
<line x1="148.90" y1="264.50" x2="158.90" y2="264.50" stroke="#c2323e" stroke-width="1.1"/>
<text x="162.30" y="266.30" font-size="5.4" text-anchor="start" font-weight="normal" fill="#333" stroke="#333" >2500 nM</text>
<line x1="148.90" y1="272.50" x2="158.90" y2="272.50" stroke="#f5902f" stroke-width="1.4"/>
<text x="162.30" y="273.70" font-size="5.4" text-anchor="start" font-weight="normal" fill="#333" stroke="#333" >1250 nM</text>
<line x1="148.90" y1="280.00" x2="158.90" y2="280.00" stroke="#9663b8" stroke-width="1.8"/>
<text x="162.30" y="281.50" font-size="5.4" text-anchor="start" font-weight="normal" fill="#333" stroke="#333" >625 nM</text>
<line x1="148.90" y1="287.50" x2="158.90" y2="287.50" stroke="#5ca024" stroke-width="1.1"/>
<text x="162.30" y="289.30" font-size="5.4" text-anchor="start" font-weight="normal" fill="#333" stroke="#333" >312.5 nM</text>
<line x1="148.90" y1="295.00" x2="158.90" y2="295.00" stroke="#2590ad" stroke-width="1.8"/>
<text x="162.30" y="296.90" font-size="5.4" text-anchor="start" font-weight="normal" fill="#333" stroke="#333" >156 nM</text>
<path d="M222.38,211.86V299.40H339.17" stroke="#9a9a9a" stroke-width="0.8" fill="none"/>
<text x="220.48" y="300.90" font-size="5.3" text-anchor="end" font-weight="normal" fill="#484848" stroke="#484848" >0</text>
<text x="220.48" y="271.72" font-size="5.3" text-anchor="end" font-weight="normal" fill="#484848" stroke="#484848" >100</text>
<text x="220.48" y="242.54" font-size="5.3" text-anchor="end" font-weight="normal" fill="#484848" stroke="#484848" >200</text>
<text x="220.48" y="213.36" font-size="5.3" text-anchor="end" font-weight="normal" fill="#484848" stroke="#484848" >300</text>
<text x="222.38" y="305.70" font-size="5.3" text-anchor="middle" font-weight="normal" fill="#484848" stroke="#484848" >−40</text>
<text x="240.70" y="305.70" font-size="5.3" text-anchor="middle" font-weight="normal" fill="#484848" stroke="#484848" >0</text>
<text x="259.02" y="305.70" font-size="5.3" text-anchor="middle" font-weight="normal" fill="#484848" stroke="#484848" >40</text>
<text x="277.34" y="305.70" font-size="5.3" text-anchor="middle" font-weight="normal" fill="#484848" stroke="#484848" >80</text>
<text x="295.66" y="305.70" font-size="5.3" text-anchor="middle" font-weight="normal" fill="#484848" stroke="#484848" >120</text>
<text x="313.98" y="305.70" font-size="5.3" text-anchor="middle" font-weight="normal" fill="#484848" stroke="#484848" >160</text>
<text x="332.30" y="305.70" font-size="5.3" text-anchor="middle" font-weight="normal" fill="#484848" stroke="#484848" >200</text>
<path d="M222.38,299.40h-1.2M222.38,270.22h-1.2M222.38,241.04h-1.2M222.38,211.86h-1.2M222.38,299.40v1.2M240.70,299.40v1.2M259.02,299.40v1.2M277.34,299.40v1.2M295.66,299.40v1.2M313.98,299.40v1.2M332.30,299.40v1.2" stroke="#9a9a9a" stroke-width="0.5" fill="none"/>
<text x="276.64" y="311.80" font-size="5.4" text-anchor="middle" font-weight="normal" fill="#333" stroke="#333" >Time (s)</text>
<text transform="translate(208.20,255.63) rotate(-90)" font-size="6.4" text-anchor="middle" fill="#444" stroke="#444" stroke-width="0.1">Relative response (RU)</text>
<text x="232.8" y="212.6" font-size="6.4" font-weight="bold" fill="#111">lyso-VNAR (5 mM DTT treated)</text>
<path d="M222.38,299.40 L241.52,299.40 L241.64,276.92 L241.75,261.41 L241.87,250.69 L241.98,243.27 L242.10,238.12 L242.21,234.53 L242.33,232.01 L242.44,230.23 L242.55,228.97 L242.67,228.05 L242.78,227.38 L242.90,226.88 L243.01,226.49 L243.13,226.19 L243.24,225.95 L243.36,225.74 L243.47,225.57 L243.59,225.42 L243.70,225.28 L243.81,225.16 L243.93,225.05 L244.04,224.94 L244.16,224.84 L244.27,224.75 L244.39,224.66 L244.50,224.57 L244.62,224.49 L244.73,224.41 L244.84,224.33 L244.96,224.26 L245.07,224.19 L245.19,224.12 L245.30,224.06 L245.42,224.00 L245.53,223.94 L245.65,223.88 L245.76,223.82 L245.88,223.77 L245.99,223.72 L246.10,223.67 L246.20,223.63 L247.11,223.30 L248.03,223.06 L248.94,222.88 L249.86,222.75 L250.78,222.65 L251.69,222.57 L252.61,222.52 L253.52,222.48 L254.44,222.45 L255.36,222.43 L256.27,222.41 L257.19,222.40 L258.10,222.39 L259.02,222.38 L259.94,222.38 L260.85,222.38 L261.77,222.37 L262.68,222.37 L263.60,222.37 L264.52,222.37 L265.43,222.37 L266.35,222.37 L267.26,222.37 L268.18,222.37 L269.10,222.37 L270.01,222.37 L270.93,222.37 L271.84,222.37 L272.76,222.37 L273.68,222.36 L274.59,222.36 L275.51,222.36 L276.42,222.36 L277.34,222.36 L278.26,222.36 L279.17,222.36 L280.09,222.36 L281.00,222.36 L281.92,222.36 L282.84,222.36 L283.75,222.36 L284.67,222.36 L285.36,222.45 L285.58,222.53 L286.04,222.70 L286.50,222.87 L287.42,223.21 L288.33,223.54 L289.25,223.88 L290.16,224.21 L291.08,224.54 L292.00,224.87 L292.91,225.19 L293.83,225.52 L294.74,225.84 L295.66,226.17 L296.58,226.49 L297.49,226.81 L298.41,227.13 L299.32,227.44 L300.24,227.76 L301.16,228.07 L302.07,228.39 L302.99,228.70 L303.90,229.01 L304.82,229.32 L305.74,229.63 L306.65,229.93 L307.57,230.24 L308.48,230.54 L309.40,230.84 L310.32,231.14 L311.23,231.44 L312.15,231.74 L313.06,232.04 L313.98,232.33 L314.90,232.63 L315.81,232.92 L316.73,233.21 L317.64,233.51 L318.56,233.79 L319.48,234.08 L320.39,234.37 L321.31,234.65 L322.22,234.94 L323.14,235.22 L324.06,235.50 L324.97,235.78 L325.89,236.06 L326.80,236.34 L327.72,236.62 L328.64,236.89 L329.55,237.17 L330.47,237.44 L331.38,237.71 L332.30,237.98 L332.76,238.12" stroke="#c2323e" stroke-width="1.2" fill="none" stroke-linejoin="round"/>
<path d="M222.38,299.40 L241.52,299.40 L241.64,281.21 L241.75,267.69 L241.87,257.63 L241.98,250.14 L242.10,244.55 L242.21,240.37 L242.33,237.24 L242.44,234.88 L242.55,233.10 L242.67,231.75 L242.78,230.71 L242.90,229.91 L243.01,229.28 L243.13,228.79 L243.24,228.40 L243.36,228.08 L243.47,227.81 L243.59,227.59 L243.70,227.39 L243.81,227.23 L243.93,227.08 L244.04,226.94 L244.16,226.82 L244.27,226.71 L244.39,226.60 L244.50,226.50 L244.62,226.41 L244.73,226.32 L244.84,226.23 L244.96,226.15 L245.07,226.07 L245.19,225.99 L245.30,225.92 L245.42,225.85 L245.53,225.78 L245.65,225.71 L245.76,225.65 L245.88,225.59 L245.99,225.53 L246.10,225.47 L246.20,225.42 L247.11,225.02 L248.03,224.70 L248.94,224.45 L249.86,224.25 L250.78,224.10 L251.69,223.98 L252.61,223.88 L253.52,223.81 L254.44,223.75 L255.36,223.70 L256.27,223.67 L257.19,223.64 L258.10,223.62 L259.02,223.60 L259.94,223.58 L260.85,223.57 L261.77,223.56 L262.68,223.56 L263.60,223.55 L264.52,223.55 L265.43,223.54 L266.35,223.54 L267.26,223.54 L268.18,223.54 L269.10,223.54 L270.01,223.54 L270.93,223.53 L271.84,223.53 L272.76,223.53 L273.68,223.53 L274.59,223.53 L275.51,223.53 L276.42,223.53 L277.34,223.53 L278.26,223.53 L279.17,223.53 L280.09,223.53 L281.00,223.53 L281.92,223.53 L282.84,223.53 L283.75,223.53 L284.67,223.53 L285.36,223.62 L285.58,223.70 L286.04,223.87 L286.50,224.03 L287.42,224.36 L288.33,224.69 L289.25,225.02 L290.16,225.35 L291.08,225.67 L292.00,225.99 L292.91,226.32 L293.83,226.64 L294.74,226.96 L295.66,227.28 L296.58,227.59 L297.49,227.91 L298.41,228.22 L299.32,228.53 L300.24,228.84 L301.16,229.15 L302.07,229.46 L302.99,229.77 L303.90,230.08 L304.82,230.38 L305.74,230.68 L306.65,230.98 L307.57,231.29 L308.48,231.58 L309.40,231.88 L310.32,232.18 L311.23,232.47 L312.15,232.77 L313.06,233.06 L313.98,233.35 L314.90,233.64 L315.81,233.93 L316.73,234.22 L317.64,234.50 L318.56,234.79 L319.48,235.07 L320.39,235.35 L321.31,235.64 L322.22,235.92 L323.14,236.19 L324.06,236.47 L324.97,236.75 L325.89,237.02 L326.80,237.30 L327.72,237.57 L328.64,237.84 L329.55,238.11 L330.47,238.38 L331.38,238.65 L332.30,238.92 L332.76,239.05" stroke="#f5902f" stroke-width="1.2" fill="none" stroke-linejoin="round"/>
<path d="M222.38,299.40 L241.52,299.40 L241.64,272.95 L241.75,256.01 L241.87,245.14 L241.98,238.15 L242.10,233.63 L242.21,230.69 L242.33,228.76 L242.44,227.47 L242.55,226.60 L242.67,226.00 L242.78,225.57 L242.90,225.25 L243.01,225.01 L243.13,224.82 L243.24,224.65 L243.36,224.52 L243.47,224.39 L243.59,224.28 L243.70,224.18 L243.81,224.09 L243.93,224.00 L244.04,223.92 L244.16,223.85 L244.27,223.77 L244.39,223.70 L244.50,223.64 L244.62,223.58 L244.73,223.52 L244.84,223.46 L244.96,223.41 L245.07,223.36 L245.19,223.31 L245.30,223.26 L245.42,223.22 L245.53,223.18 L245.65,223.14 L245.76,223.10 L245.88,223.06 L245.99,223.03 L246.10,223.00 L246.20,222.97 L247.11,222.77 L248.03,222.64 L248.94,222.55 L249.86,222.49 L250.78,222.45 L251.69,222.42 L252.61,222.40 L253.52,222.39 L254.44,222.38 L255.36,222.38 L256.27,222.37 L257.19,222.37 L258.10,222.37 L259.02,222.37 L259.94,222.37 L260.85,222.37 L261.77,222.37 L262.68,222.37 L263.60,222.37 L264.52,222.37 L265.43,222.36 L266.35,222.36 L267.26,222.36 L268.18,222.36 L269.10,222.36 L270.01,222.36 L270.93,222.36 L271.84,222.36 L272.76,222.36 L273.68,222.36 L274.59,222.36 L275.51,222.36 L276.42,222.36 L277.34,222.36 L278.26,222.36 L279.17,222.36 L280.09,222.36 L281.00,222.36 L281.92,222.36 L282.84,222.36 L283.75,222.36 L284.67,222.36 L285.36,222.45 L285.58,222.53 L286.04,222.70 L286.50,222.87 L287.42,223.21 L288.33,223.54 L289.25,223.88 L290.16,224.21 L291.08,224.54 L292.00,224.87 L292.91,225.19 L293.83,225.52 L294.74,225.84 L295.66,226.17 L296.58,226.49 L297.49,226.81 L298.41,227.13 L299.32,227.44 L300.24,227.76 L301.16,228.07 L302.07,228.39 L302.99,228.70 L303.90,229.01 L304.82,229.32 L305.74,229.63 L306.65,229.93 L307.57,230.24 L308.48,230.54 L309.40,230.84 L310.32,231.14 L311.23,231.44 L312.15,231.74 L313.06,232.04 L313.98,232.33 L314.90,232.63 L315.81,232.92 L316.73,233.21 L317.64,233.51 L318.56,233.79 L319.48,234.08 L320.39,234.37 L321.31,234.65 L322.22,234.94 L323.14,235.22 L324.06,235.50 L324.97,235.78 L325.89,236.06 L326.80,236.34 L327.72,236.62 L328.64,236.89 L329.55,237.17 L330.47,237.44 L331.38,237.71 L332.30,237.98 L332.76,238.12" stroke="#222" stroke-width="0.7" fill="none" stroke-linejoin="round"/>
<path d="M222.38,299.40 L241.62,299.40 L241.73,292.08 L241.84,285.52 L241.96,279.64 L242.07,274.38 L242.19,269.66 L242.30,265.43 L242.42,261.64 L242.53,258.23 L242.65,255.18 L242.76,252.44 L242.88,249.98 L242.99,247.77 L243.10,245.78 L243.22,243.99 L243.33,242.39 L243.45,240.94 L243.56,239.64 L243.68,238.46 L243.79,237.40 L243.91,236.45 L244.02,235.58 L244.13,234.80 L244.25,234.09 L244.36,233.45 L244.48,232.87 L244.59,232.34 L244.71,231.86 L244.82,231.43 L244.94,231.03 L245.05,230.67 L245.17,230.34 L245.28,230.03 L245.39,229.75 L245.51,229.50 L245.62,229.26 L245.74,229.05 L245.85,228.85 L245.97,228.66 L246.08,228.49 L246.20,228.33 L246.65,227.80 L247.57,227.06 L248.49,226.57 L249.40,226.21 L250.32,225.93 L251.23,225.71 L252.15,225.52 L253.07,225.37 L253.98,225.25 L254.90,225.14 L255.81,225.05 L256.73,224.97 L257.65,224.90 L258.56,224.85 L259.48,224.80 L260.39,224.75 L261.31,224.71 L262.23,224.68 L263.14,224.65 L264.06,224.62 L264.97,224.59 L265.89,224.56 L266.81,224.54 L267.72,224.52 L268.64,224.49 L269.55,224.47 L270.47,224.45 L271.39,224.43 L272.30,224.41 L273.22,224.39 L274.13,224.38 L275.05,224.36 L275.97,224.34 L276.88,224.32 L277.80,224.30 L278.71,224.28 L279.63,224.27 L280.55,224.25 L281.46,224.23 L282.38,224.21 L283.29,224.20 L284.21,224.18 L285.13,224.16 L285.36,224.24 L285.58,224.33 L286.04,224.49 L286.50,224.65 L287.42,224.98 L288.33,225.31 L289.25,225.64 L290.16,225.96 L291.08,226.28 L292.00,226.60 L292.91,226.92 L293.83,227.24 L294.74,227.56 L295.66,227.87 L296.58,228.19 L297.49,228.50 L298.41,228.81 L299.32,229.12 L300.24,229.43 L301.16,229.74 L302.07,230.04 L302.99,230.35 L303.90,230.65 L304.82,230.95 L305.74,231.25 L306.65,231.55 L307.57,231.85 L308.48,232.15 L309.40,232.44 L310.32,232.73 L311.23,233.03 L312.15,233.32 L313.06,233.61 L313.98,233.90 L314.90,234.19 L315.81,234.47 L316.73,234.76 L317.64,235.04 L318.56,235.32 L319.48,235.60 L320.39,235.88 L321.31,236.16 L322.22,236.44 L323.14,236.72 L324.06,236.99 L324.97,237.27 L325.89,237.54 L326.80,237.81 L327.72,238.08 L328.64,238.35 L329.55,238.62 L330.47,238.89 L331.38,239.15 L332.30,239.42 L332.76,239.55" stroke="#9663b8" stroke-width="1.2" fill="none" stroke-linejoin="round"/>
<path d="M222.38,299.40 L241.62,299.40 L241.73,297.11 L241.84,294.89 L241.96,292.74 L242.07,290.66 L242.19,288.64 L242.30,286.69 L242.42,284.80 L242.53,282.97 L242.65,281.20 L242.76,279.49 L242.88,277.83 L242.99,276.22 L243.10,274.67 L243.22,273.16 L243.33,271.71 L243.45,270.30 L243.56,268.93 L243.68,267.61 L243.79,266.32 L243.91,265.08 L244.02,263.88 L244.13,262.72 L244.25,261.60 L244.36,260.51 L244.48,259.45 L244.59,258.43 L244.71,257.44 L244.82,256.48 L244.94,255.55 L245.05,254.66 L245.17,253.79 L245.28,252.94 L245.39,252.13 L245.51,251.34 L245.62,250.58 L245.74,249.83 L245.85,249.12 L245.97,248.42 L246.08,247.75 L246.20,247.10 L246.65,244.70 L247.57,240.72 L248.49,237.64 L249.40,235.26 L250.32,233.40 L251.23,231.96 L252.15,230.83 L253.07,229.95 L253.98,229.26 L254.90,228.71 L255.81,228.28 L256.73,227.93 L257.65,227.64 L258.56,227.41 L259.48,227.22 L260.39,227.06 L261.31,226.92 L262.23,226.80 L263.14,226.70 L264.06,226.60 L264.97,226.52 L265.89,226.44 L266.81,226.36 L267.72,226.29 L268.64,226.22 L269.55,226.15 L270.47,226.09 L271.39,226.03 L272.30,225.97 L273.22,225.90 L274.13,225.84 L275.05,225.78 L275.97,225.72 L276.88,225.67 L277.80,225.61 L278.71,225.55 L279.63,225.49 L280.55,225.43 L281.46,225.37 L282.38,225.31 L283.29,225.25 L284.21,225.20 L285.13,225.14 L285.36,225.22 L285.58,225.30 L286.04,225.46 L286.50,225.63 L287.42,225.95 L288.33,226.27 L289.25,226.59 L290.16,226.91 L291.08,227.23 L292.00,227.55 L292.91,227.86 L293.83,228.18 L294.74,228.49 L295.66,228.80 L296.58,229.11 L297.49,229.42 L298.41,229.73 L299.32,230.03 L300.24,230.34 L301.16,230.64 L302.07,230.94 L302.99,231.24 L303.90,231.54 L304.82,231.84 L305.74,232.14 L306.65,232.43 L307.57,232.73 L308.48,233.02 L309.40,233.31 L310.32,233.60 L311.23,233.89 L312.15,234.18 L313.06,234.46 L313.98,234.75 L314.90,235.03 L315.81,235.32 L316.73,235.60 L317.64,235.88 L318.56,236.16 L319.48,236.43 L320.39,236.71 L321.31,236.98 L322.22,237.26 L323.14,237.53 L324.06,237.80 L324.97,238.07 L325.89,238.34 L326.80,238.61 L327.72,238.88 L328.64,239.14 L329.55,239.41 L330.47,239.67 L331.38,239.93 L332.30,240.19 L332.76,240.32" stroke="#5ca024" stroke-width="1.2" fill="none" stroke-linejoin="round"/>
<path d="M222.38,299.40 L241.62,299.40 L241.73,297.26 L241.84,295.19 L241.96,293.17 L242.07,291.22 L242.19,289.32 L242.30,287.48 L242.42,285.69 L242.53,283.96 L242.65,282.28 L242.76,280.64 L242.88,279.06 L242.99,277.52 L243.10,276.03 L243.22,274.58 L243.33,273.18 L243.45,271.81 L243.56,270.49 L243.68,269.20 L243.79,267.96 L243.91,266.75 L244.02,265.58 L244.13,264.44 L244.25,263.33 L244.36,262.26 L244.48,261.22 L244.59,260.21 L244.71,259.23 L244.82,258.27 L244.94,257.35 L245.05,256.46 L245.17,255.59 L245.28,254.74 L245.39,253.92 L245.51,253.13 L245.62,252.36 L245.74,251.61 L245.85,250.88 L245.97,250.18 L246.08,249.49 L246.20,248.83 L246.65,246.37 L247.57,242.24 L248.49,239.00 L249.40,236.44 L250.32,234.44 L251.23,232.86 L252.15,231.61 L253.07,230.64 L253.98,229.87 L254.90,229.26 L255.81,228.79 L256.73,228.41 L257.65,228.12 L258.56,227.89 L259.48,227.71 L260.39,227.56 L261.31,227.45 L262.23,227.36 L263.14,227.29 L264.06,227.24 L264.97,227.19 L265.89,227.16 L266.81,227.13 L267.72,227.11 L268.64,227.09 L269.55,227.08 L270.47,227.07 L271.39,227.06 L272.30,227.06 L273.22,227.05 L274.13,227.05 L275.05,227.04 L275.97,227.04 L276.88,227.04 L277.80,227.04 L278.71,227.04 L279.63,227.04 L280.55,227.04 L281.46,227.04 L282.38,227.04 L283.29,227.03 L284.21,227.03 L285.13,227.03 L285.36,227.11 L285.58,227.19 L286.04,227.35 L286.50,227.51 L287.42,227.83 L288.33,228.14 L289.25,228.45 L290.16,228.76 L291.08,229.07 L292.00,229.38 L292.91,229.69 L293.83,230.00 L294.74,230.30 L295.66,230.61 L296.58,230.91 L297.49,231.21 L298.41,231.51 L299.32,231.81 L300.24,232.10 L301.16,232.40 L302.07,232.69 L302.99,232.98 L303.90,233.28 L304.82,233.57 L305.74,233.86 L306.65,234.14 L307.57,234.43 L308.48,234.71 L309.40,235.00 L310.32,235.28 L311.23,235.56 L312.15,235.84 L313.06,236.12 L313.98,236.40 L314.90,236.68 L315.81,236.95 L316.73,237.23 L317.64,237.50 L318.56,237.77 L319.48,238.04 L320.39,238.31 L321.31,238.58 L322.22,238.85 L323.14,239.11 L324.06,239.38 L324.97,239.64 L325.89,239.90 L326.80,240.16 L327.72,240.42 L328.64,240.68 L329.55,240.94 L330.47,241.20 L331.38,241.45 L332.30,241.71 L332.76,241.83" stroke="#6a6a6a" stroke-width="0.6" fill="none" stroke-linejoin="round"/>
<path d="M222.38,299.40 L241.62,299.40 L241.73,298.29 L241.84,297.19 L241.96,296.12 L242.07,295.06 L242.19,294.02 L242.30,292.99 L242.42,291.98 L242.53,290.99 L242.65,290.01 L242.76,289.05 L242.88,288.10 L242.99,287.17 L243.10,286.25 L243.22,285.35 L243.33,284.46 L243.45,283.58 L243.56,282.72 L243.68,281.88 L243.79,281.04 L243.91,280.22 L244.02,279.41 L244.13,278.62 L244.25,277.84 L244.36,277.07 L244.48,276.31 L244.59,275.57 L244.71,274.83 L244.82,274.11 L244.94,273.40 L245.05,272.70 L245.17,272.01 L245.28,271.34 L245.39,270.67 L245.51,270.02 L245.62,269.37 L245.74,268.74 L245.85,268.11 L245.97,267.50 L246.08,266.89 L246.20,266.30 L246.65,264.01 L247.57,259.84 L248.49,256.18 L249.40,252.96 L250.32,250.13 L251.23,247.63 L252.15,245.44 L253.07,243.51 L253.98,241.81 L254.90,240.31 L255.81,239.00 L256.73,237.84 L257.65,236.82 L258.56,235.93 L259.48,235.14 L260.39,234.45 L261.31,233.84 L262.23,233.30 L263.14,232.83 L264.06,232.41 L264.97,232.05 L265.89,231.72 L266.81,231.44 L267.72,231.19 L268.64,230.97 L269.55,230.78 L270.47,230.61 L271.39,230.46 L272.30,230.33 L273.22,230.21 L274.13,230.11 L275.05,230.02 L275.97,229.94 L276.88,229.88 L277.80,229.81 L278.71,229.76 L279.63,229.71 L280.55,229.67 L281.46,229.64 L282.38,229.60 L283.29,229.57 L284.21,229.55 L285.13,229.53 L285.36,229.60 L285.58,229.67 L286.04,229.82 L286.50,229.97 L287.42,230.26 L288.33,230.55 L289.25,230.84 L290.16,231.12 L291.08,231.41 L292.00,231.69 L292.91,231.98 L293.83,232.26 L294.74,232.54 L295.66,232.82 L296.58,233.10 L297.49,233.38 L298.41,233.66 L299.32,233.93 L300.24,234.21 L301.16,234.48 L302.07,234.75 L302.99,235.02 L303.90,235.29 L304.82,235.56 L305.74,235.83 L306.65,236.10 L307.57,236.36 L308.48,236.62 L309.40,236.89 L310.32,237.15 L311.23,237.41 L312.15,237.67 L313.06,237.93 L313.98,238.19 L314.90,238.44 L315.81,238.70 L316.73,238.95 L317.64,239.21 L318.56,239.46 L319.48,239.71 L320.39,239.96 L321.31,240.21 L322.22,240.46 L323.14,240.70 L324.06,240.95 L324.97,241.20 L325.89,241.44 L326.80,241.68 L327.72,241.92 L328.64,242.17 L329.55,242.41 L330.47,242.64 L331.38,242.88 L332.30,243.12 L332.76,243.24" stroke="#2590ad" stroke-width="1.3" fill="none" stroke-linejoin="round"/>
<path d="M222.38,299.10H240.70" stroke="#5b2a2e" stroke-width="1.1"/>
<line x1="266.00" y1="280.50" x2="276.00" y2="280.50" stroke="#c2323e" stroke-width="1.1"/>
<text x="278.30" y="281.70" font-size="5.4" text-anchor="start" font-weight="normal" fill="#333" stroke="#333" >2500 nM</text>
<line x1="266.00" y1="287.50" x2="276.00" y2="287.50" stroke="#f5902f" stroke-width="1.4"/>
<text x="278.30" y="289.00" font-size="5.4" text-anchor="start" font-weight="normal" fill="#333" stroke="#333" >1250 nM</text>
<line x1="302.70" y1="287.50" x2="312.70" y2="287.50" stroke="#5ca024" stroke-width="1.1"/>
<text x="315.00" y="289.00" font-size="5.4" text-anchor="start" font-weight="normal" fill="#333" stroke="#333" >312.5 nM</text>
<line x1="266.00" y1="295.00" x2="276.00" y2="295.00" stroke="#9663b8" stroke-width="1.8"/>
<text x="278.30" y="296.30" font-size="5.4" text-anchor="start" font-weight="normal" fill="#333" stroke="#333" >625 nM</text>
<line x1="302.70" y1="295.00" x2="312.70" y2="295.00" stroke="#2590ad" stroke-width="1.8"/>
<text x="315.00" y="296.30" font-size="5.4" text-anchor="start" font-weight="normal" fill="#333" stroke="#333" >156 nM</text>
<path d="M375.38,211.30V299.40H488.35" stroke="#9a9a9a" stroke-width="0.8" fill="none"/>
<text x="373.48" y="300.90" font-size="5.3" text-anchor="end" font-weight="normal" fill="#484848" stroke="#484848" >0</text>
<text x="373.48" y="283.28" font-size="5.3" text-anchor="end" font-weight="normal" fill="#484848" stroke="#484848" >100</text>
<text x="373.48" y="265.66" font-size="5.3" text-anchor="end" font-weight="normal" fill="#484848" stroke="#484848" >200</text>
<text x="373.48" y="248.04" font-size="5.3" text-anchor="end" font-weight="normal" fill="#484848" stroke="#484848" >300</text>
<text x="373.48" y="230.42" font-size="5.3" text-anchor="end" font-weight="normal" fill="#484848" stroke="#484848" >400</text>
<text x="373.48" y="212.80" font-size="5.3" text-anchor="end" font-weight="normal" fill="#484848" stroke="#484848" >500</text>
<text x="375.38" y="305.70" font-size="5.3" text-anchor="middle" font-weight="normal" fill="#484848" stroke="#484848" >−40</text>
<text x="393.10" y="305.70" font-size="5.3" text-anchor="middle" font-weight="normal" fill="#484848" stroke="#484848" >0</text>
<text x="410.82" y="305.70" font-size="5.3" text-anchor="middle" font-weight="normal" fill="#484848" stroke="#484848" >40</text>
<text x="428.54" y="305.70" font-size="5.3" text-anchor="middle" font-weight="normal" fill="#484848" stroke="#484848" >80</text>
<text x="446.26" y="305.70" font-size="5.3" text-anchor="middle" font-weight="normal" fill="#484848" stroke="#484848" >120</text>
<text x="463.98" y="305.70" font-size="5.3" text-anchor="middle" font-weight="normal" fill="#484848" stroke="#484848" >160</text>
<text x="481.70" y="305.70" font-size="5.3" text-anchor="middle" font-weight="normal" fill="#484848" stroke="#484848" >200</text>
<path d="M375.38,299.40h-1.2M375.38,281.78h-1.2M375.38,264.16h-1.2M375.38,246.54h-1.2M375.38,228.92h-1.2M375.38,211.30h-1.2M375.38,299.40v1.2M393.10,299.40v1.2M410.82,299.40v1.2M428.54,299.40v1.2M446.26,299.40v1.2M463.98,299.40v1.2M481.70,299.40v1.2" stroke="#9a9a9a" stroke-width="0.5" fill="none"/>
<text x="427.84" y="311.80" font-size="5.4" text-anchor="middle" font-weight="normal" fill="#333" stroke="#333" >Time (s)</text>
<text transform="translate(358.60,255.35) rotate(-90)" font-size="6.4" text-anchor="middle" fill="#444" stroke="#444" stroke-width="0.1">Relative response (RU)</text>
<text x="407.0" y="212.8" font-size="6.4" font-weight="bold" fill="#111">lyso-VNAR<tspan dy="2.0" font-size="3.9" font-weight="normal">C30P_C112.1T</tspan></text>
<path d="M375.38,299.40 L393.32,299.40 L393.43,295.07 L393.54,290.98 L393.65,287.10 L393.76,283.43 L393.88,279.96 L393.99,276.67 L394.10,273.56 L394.21,270.61 L394.32,267.82 L394.43,265.19 L394.54,262.69 L394.65,260.32 L394.76,258.09 L394.87,255.97 L394.98,253.97 L395.09,252.07 L395.20,250.27 L395.31,248.58 L395.43,246.97 L395.54,245.45 L395.65,244.00 L395.76,242.64 L395.87,241.35 L395.98,240.13 L396.09,238.97 L396.20,237.88 L396.31,236.84 L396.42,235.86 L396.53,234.93 L396.64,234.06 L396.75,233.23 L396.87,232.44 L396.98,231.69 L397.09,230.99 L397.20,230.32 L397.31,229.69 L397.42,229.09 L397.53,228.53 L397.64,227.99 L397.75,227.49 L397.97,226.55 L398.86,223.69 L399.75,221.85 L400.63,220.67 L401.52,219.91 L402.40,219.41 L403.29,219.10 L404.18,218.89 L405.06,218.76 L405.95,218.68 L406.83,218.62 L407.72,218.59 L408.61,218.57 L409.49,218.55 L410.38,218.54 L411.26,218.54 L412.15,218.53 L413.04,218.53 L413.92,218.53 L414.81,218.53 L415.69,218.53 L416.58,218.52 L417.47,218.52 L418.35,218.52 L419.24,218.52 L420.12,218.52 L421.01,218.52 L421.90,218.52 L422.78,218.52 L423.67,218.52 L424.55,218.52 L425.44,218.52 L426.33,218.52 L427.21,218.52 L428.10,218.52 L428.98,218.52 L429.87,218.52 L430.75,218.52 L431.64,218.52 L432.53,218.52 L433.41,218.52 L434.30,218.52 L435.19,218.52 L436.07,218.52 L436.29,221.46 L436.51,224.28 L436.96,229.62 L437.40,234.57 L438.29,243.43 L439.17,251.05 L440.06,257.62 L440.94,263.26 L441.83,268.13 L442.72,272.31 L443.60,275.91 L444.49,279.01 L445.37,281.68 L446.26,283.98 L447.15,285.95 L448.03,287.65 L448.92,289.12 L449.80,290.38 L450.69,291.46 L451.58,292.40 L452.46,293.20 L453.35,293.89 L454.23,294.49 L455.12,295.00 L456.01,295.44 L456.89,295.82 L457.78,296.15 L458.66,296.43 L459.55,296.67 L460.44,296.88 L461.32,297.06 L462.21,297.21 L463.09,297.35 L463.98,297.46 L464.87,297.56 L465.75,297.64 L466.64,297.72 L467.52,297.78 L468.41,297.83 L469.30,297.88 L470.18,297.92 L471.07,297.95 L471.95,297.98 L472.84,298.01 L473.73,298.03 L474.61,298.05 L475.50,298.07 L476.38,298.08 L477.27,298.09 L478.16,298.10 L479.04,298.11 L479.93,298.12 L480.81,298.13 L481.70,298.13 L482.59,298.14 L483.47,298.14 L484.36,298.14 L485.24,298.15" stroke="#666666" stroke-width="0.7" fill="none" stroke-linejoin="round"/>
<path d="M375.38,299.40 L393.32,299.40 L393.43,294.63 L393.54,290.15 L393.65,285.93 L393.76,281.98 L393.88,278.26 L393.99,274.77 L394.10,271.49 L394.21,268.41 L394.32,265.52 L394.43,262.80 L394.54,260.24 L394.65,257.84 L394.76,255.59 L394.87,253.47 L394.98,251.48 L395.09,249.61 L395.20,247.86 L395.31,246.21 L395.43,244.66 L395.54,243.20 L395.65,241.84 L395.76,240.55 L395.87,239.35 L395.98,238.21 L396.09,237.15 L396.20,236.15 L396.31,235.21 L396.42,234.33 L396.53,233.50 L396.64,232.72 L396.75,231.99 L396.87,231.30 L396.98,230.65 L397.09,230.05 L397.20,229.48 L397.31,228.94 L397.42,228.44 L397.53,227.96 L397.64,227.52 L397.75,227.10 L397.97,226.34 L398.86,224.10 L399.75,222.74 L400.63,221.91 L401.52,221.41 L402.40,221.11 L403.29,220.92 L404.18,220.81 L405.06,220.74 L405.95,220.70 L406.83,220.68 L407.72,220.66 L408.61,220.65 L409.49,220.65 L410.38,220.64 L411.26,220.64 L412.15,220.64 L413.04,220.64 L413.92,220.64 L414.81,220.64 L415.69,220.64 L416.58,220.64 L417.47,220.64 L418.35,220.64 L419.24,220.64 L420.12,220.64 L421.01,220.64 L421.90,220.64 L422.78,220.64 L423.67,220.64 L424.55,220.64 L425.44,220.64 L426.33,220.64 L427.21,220.64 L428.10,220.64 L428.98,220.64 L429.87,220.64 L430.75,220.64 L431.64,220.64 L432.53,220.64 L433.41,220.64 L434.30,220.64 L435.19,220.64 L436.07,220.64 L436.29,223.68 L436.51,226.60 L436.96,232.10 L437.40,237.18 L438.29,246.20 L439.17,253.88 L440.06,260.43 L440.94,266.01 L441.83,270.76 L442.72,274.82 L443.60,278.27 L444.49,281.21 L445.37,283.72 L446.26,285.85 L447.15,287.67 L448.03,289.23 L448.92,290.55 L449.80,291.67 L450.69,292.63 L451.58,293.45 L452.46,294.15 L453.35,294.74 L454.23,295.25 L455.12,295.68 L456.01,296.05 L456.89,296.36 L457.78,296.63 L458.66,296.86 L459.55,297.05 L460.44,297.21 L461.32,297.36 L462.21,297.48 L463.09,297.58 L463.98,297.66 L464.87,297.74 L465.75,297.80 L466.64,297.86 L467.52,297.90 L468.41,297.94 L469.30,297.97 L470.18,298.00 L471.07,298.03 L471.95,298.05 L472.84,298.07 L473.73,298.08 L474.61,298.09 L475.50,298.10 L476.38,298.11 L477.27,298.12 L478.16,298.13 L479.04,298.13 L479.93,298.14 L480.81,298.14 L481.70,298.15 L482.59,298.15 L483.47,298.15 L484.36,298.15 L485.24,298.16" stroke="#d4586b" stroke-width="1.3" fill="none" stroke-linejoin="round"/>
<path d="M375.38,299.40 L393.32,299.40 L393.43,297.06 L393.54,294.82 L393.65,292.67 L393.76,290.59 L393.88,288.60 L393.99,286.69 L394.10,284.86 L394.21,283.09 L394.32,281.39 L394.43,279.77 L394.54,278.20 L394.65,276.70 L394.76,275.25 L394.87,273.86 L394.98,272.53 L395.09,271.25 L395.20,270.02 L395.31,268.83 L395.43,267.70 L395.54,266.60 L395.65,265.56 L395.76,264.55 L395.87,263.58 L395.98,262.65 L396.09,261.75 L396.20,260.89 L396.31,260.07 L396.42,259.28 L396.53,258.51 L396.64,257.78 L396.75,257.08 L396.87,256.40 L396.98,255.75 L397.09,255.13 L397.20,254.53 L397.31,253.95 L397.42,253.40 L397.53,252.87 L397.64,252.36 L397.75,251.87 L397.97,250.94 L398.86,247.90 L399.75,245.70 L400.63,244.09 L401.52,242.93 L402.40,242.09 L403.29,241.47 L404.18,241.03 L405.06,240.70 L405.95,240.47 L406.83,240.30 L407.72,240.17 L408.61,240.08 L409.49,240.02 L410.38,239.97 L411.26,239.94 L412.15,239.91 L413.04,239.89 L413.92,239.88 L414.81,239.87 L415.69,239.86 L416.58,239.86 L417.47,239.85 L418.35,239.85 L419.24,239.85 L420.12,239.85 L421.01,239.85 L421.90,239.85 L422.78,239.85 L423.67,239.85 L424.55,239.85 L425.44,239.84 L426.33,239.84 L427.21,239.84 L428.10,239.84 L428.98,239.84 L429.87,239.84 L430.75,239.84 L431.64,239.84 L432.53,239.84 L433.41,239.84 L434.30,239.84 L435.19,239.84 L436.07,239.84 L436.29,241.85 L436.51,243.79 L436.96,247.47 L437.40,250.90 L438.29,257.08 L439.17,262.45 L440.06,267.12 L440.94,271.19 L441.83,274.72 L442.72,277.78 L443.60,280.45 L444.49,282.77 L445.37,284.79 L446.26,286.54 L447.15,288.07 L448.03,289.39 L448.92,290.54 L449.80,291.54 L450.69,292.42 L451.58,293.17 L452.46,293.83 L453.35,294.40 L454.23,294.90 L455.12,295.33 L456.01,295.71 L456.89,296.03 L457.78,296.32 L458.66,296.57 L459.55,296.78 L460.44,296.97 L461.32,297.13 L462.21,297.27 L463.09,297.39 L463.98,297.50 L464.87,297.59 L465.75,297.67 L466.64,297.74 L467.52,297.80 L468.41,297.86 L469.30,297.90 L470.18,297.94 L471.07,297.98 L471.95,298.01 L472.84,298.03 L473.73,298.06 L474.61,298.08 L475.50,298.09 L476.38,298.11 L477.27,298.12 L478.16,298.13 L479.04,298.14 L479.93,298.15 L480.81,298.16 L481.70,298.17 L482.59,298.17 L483.47,298.18 L484.36,298.18 L485.24,298.18" stroke="#f5902f" stroke-width="1.3" fill="none" stroke-linejoin="round"/>
<path d="M375.38,299.40 L393.32,299.40 L393.43,297.45 L393.54,295.56 L393.65,293.74 L393.76,291.99 L393.88,290.29 L393.99,288.65 L394.10,287.07 L394.21,285.54 L394.32,284.07 L394.43,282.65 L394.54,281.27 L394.65,279.94 L394.76,278.66 L394.87,277.42 L394.98,276.23 L395.09,275.07 L395.20,273.96 L395.31,272.88 L395.43,271.84 L395.54,270.84 L395.65,269.87 L395.76,268.93 L395.87,268.03 L395.98,267.16 L396.09,266.31 L396.20,265.50 L396.31,264.72 L396.42,263.96 L396.53,263.23 L396.64,262.52 L396.75,261.83 L396.87,261.18 L396.98,260.54 L397.09,259.92 L397.20,259.33 L397.31,258.76 L397.42,258.20 L397.53,257.67 L397.64,257.15 L397.75,256.65 L397.97,255.71 L398.86,252.52 L399.75,250.12 L400.63,248.30 L401.52,246.92 L402.40,245.88 L403.29,245.09 L404.18,244.50 L405.06,244.05 L405.95,243.71 L406.83,243.46 L407.72,243.26 L408.61,243.12 L409.49,243.01 L410.38,242.92 L411.26,242.86 L412.15,242.81 L413.04,242.78 L413.92,242.75 L414.81,242.73 L415.69,242.71 L416.58,242.70 L417.47,242.69 L418.35,242.68 L419.24,242.68 L420.12,242.68 L421.01,242.67 L421.90,242.67 L422.78,242.67 L423.67,242.67 L424.55,242.67 L425.44,242.67 L426.33,242.67 L427.21,242.66 L428.10,242.66 L428.98,242.66 L429.87,242.66 L430.75,242.66 L431.64,242.66 L432.53,242.66 L433.41,242.66 L434.30,242.66 L435.19,242.66 L436.07,242.66 L436.29,244.71 L436.51,246.68 L436.96,250.41 L437.40,253.87 L438.29,260.05 L439.17,265.37 L440.06,269.96 L440.94,273.90 L441.83,277.29 L442.72,280.21 L443.60,282.73 L444.49,284.89 L445.37,286.76 L446.26,288.36 L447.15,289.74 L448.03,290.93 L448.92,291.95 L449.80,292.83 L450.69,293.59 L451.58,294.24 L452.46,294.80 L453.35,295.28 L454.23,295.70 L455.12,296.05 L456.01,296.36 L456.89,296.63 L457.78,296.86 L458.66,297.05 L459.55,297.22 L460.44,297.37 L461.32,297.49 L462.21,297.60 L463.09,297.69 L463.98,297.77 L464.87,297.84 L465.75,297.90 L466.64,297.95 L467.52,297.99 L468.41,298.03 L469.30,298.06 L470.18,298.09 L471.07,298.12 L471.95,298.14 L472.84,298.16 L473.73,298.17 L474.61,298.18 L475.50,298.20 L476.38,298.20 L477.27,298.21 L478.16,298.22 L479.04,298.23 L479.93,298.23 L480.81,298.24 L481.70,298.24 L482.59,298.24 L483.47,298.25 L484.36,298.25 L485.24,298.25" stroke="#666666" stroke-width="0.7" fill="none" stroke-linejoin="round"/>
<path d="M375.38,299.40 L393.32,299.40 L393.43,298.22 L393.54,297.07 L393.65,295.96 L393.76,294.89 L393.88,293.85 L393.99,292.84 L394.10,291.87 L394.21,290.93 L394.32,290.02 L394.43,289.13 L394.54,288.28 L394.65,287.45 L394.76,286.65 L394.87,285.87 L394.98,285.12 L395.09,284.40 L395.20,283.69 L395.31,283.01 L395.43,282.35 L395.54,281.71 L395.65,281.10 L395.76,280.50 L395.87,279.92 L395.98,279.36 L396.09,278.82 L396.20,278.29 L396.31,277.78 L396.42,277.29 L396.53,276.82 L396.64,276.35 L396.75,275.91 L396.87,275.48 L396.98,275.06 L397.09,274.65 L397.20,274.26 L397.31,273.88 L397.42,273.51 L397.53,273.16 L397.64,272.82 L397.75,272.48 L397.97,271.85 L398.86,269.68 L399.75,268.02 L400.63,266.73 L401.52,265.74 L402.40,264.97 L403.29,264.38 L404.18,263.93 L405.06,263.58 L405.95,263.31 L406.83,263.10 L407.72,262.94 L408.61,262.82 L409.49,262.72 L410.38,262.65 L411.26,262.59 L412.15,262.55 L413.04,262.51 L413.92,262.49 L414.81,262.47 L415.69,262.45 L416.58,262.44 L417.47,262.43 L418.35,262.42 L419.24,262.42 L420.12,262.41 L421.01,262.41 L421.90,262.41 L422.78,262.40 L423.67,262.40 L424.55,262.40 L425.44,262.40 L426.33,262.40 L427.21,262.40 L428.10,262.40 L428.98,262.40 L429.87,262.40 L430.75,262.40 L431.64,262.40 L432.53,262.40 L433.41,262.40 L434.30,262.40 L435.19,262.40 L436.07,262.40 L436.29,263.73 L436.51,265.02 L436.96,267.45 L437.40,269.70 L438.29,273.74 L439.17,277.21 L440.06,280.20 L440.94,282.77 L441.83,284.98 L442.72,286.89 L443.60,288.53 L444.49,289.94 L445.37,291.15 L446.26,292.20 L447.15,293.10 L448.03,293.87 L448.92,294.54 L449.80,295.11 L450.69,295.61 L451.58,296.03 L452.46,296.40 L453.35,296.71 L454.23,296.99 L455.12,297.22 L456.01,297.42 L456.89,297.59 L457.78,297.74 L458.66,297.87 L459.55,297.98 L460.44,298.07 L461.32,298.16 L462.21,298.23 L463.09,298.29 L463.98,298.34 L464.87,298.38 L465.75,298.42 L466.64,298.45 L467.52,298.48 L468.41,298.51 L469.30,298.53 L470.18,298.55 L471.07,298.56 L471.95,298.58 L472.84,298.59 L473.73,298.60 L474.61,298.61 L475.50,298.61 L476.38,298.62 L477.27,298.63 L478.16,298.63 L479.04,298.63 L479.93,298.64 L480.81,298.64 L481.70,298.64 L482.59,298.65 L483.47,298.65 L484.36,298.65 L485.24,298.65" stroke="#8e4fa8" stroke-width="1.3" fill="none" stroke-linejoin="round"/>
<path d="M375.38,299.40 L393.32,299.40 L393.43,298.35 L393.54,297.34 L393.65,296.35 L393.76,295.40 L393.88,294.47 L393.99,293.57 L394.10,292.69 L394.21,291.84 L394.32,291.02 L394.43,290.22 L394.54,289.45 L394.65,288.69 L394.76,287.96 L394.87,287.25 L394.98,286.57 L395.09,285.90 L395.20,285.25 L395.31,284.62 L395.43,284.01 L395.54,283.42 L395.65,282.85 L395.76,282.29 L395.87,281.75 L395.98,281.22 L396.09,280.71 L396.20,280.22 L396.31,279.74 L396.42,279.27 L396.53,278.82 L396.64,278.38 L396.75,277.96 L396.87,277.54 L396.98,277.14 L397.09,276.75 L397.20,276.38 L397.31,276.01 L397.42,275.66 L397.53,275.31 L397.64,274.98 L397.75,274.65 L397.97,274.03 L398.86,271.89 L399.75,270.20 L400.63,268.87 L401.52,267.83 L402.40,267.01 L403.29,266.36 L404.18,265.86 L405.06,265.46 L405.95,265.14 L406.83,264.90 L407.72,264.70 L408.61,264.55 L409.49,264.43 L410.38,264.33 L411.26,264.26 L412.15,264.20 L413.04,264.15 L413.92,264.12 L414.81,264.09 L415.69,264.07 L416.58,264.05 L417.47,264.03 L418.35,264.02 L419.24,264.02 L420.12,264.01 L421.01,264.00 L421.90,264.00 L422.78,264.00 L423.67,263.99 L424.55,263.99 L425.44,263.99 L426.33,263.99 L427.21,263.99 L428.10,263.99 L428.98,263.99 L429.87,263.99 L430.75,263.99 L431.64,263.98 L432.53,263.98 L433.41,263.98 L434.30,263.98 L435.19,263.98 L436.07,263.98 L436.29,265.26 L436.51,266.49 L436.96,268.82 L437.40,270.98 L438.29,274.84 L439.17,278.16 L440.06,281.02 L440.94,283.48 L441.83,285.60 L442.72,287.42 L443.60,288.99 L444.49,290.34 L445.37,291.51 L446.26,292.51 L447.15,293.37 L448.03,294.11 L448.92,294.75 L449.80,295.30 L450.69,295.77 L451.58,296.18 L452.46,296.53 L453.35,296.83 L454.23,297.09 L455.12,297.31 L456.01,297.50 L456.89,297.67 L457.78,297.81 L458.66,297.93 L459.55,298.04 L460.44,298.13 L461.32,298.21 L462.21,298.28 L463.09,298.33 L463.98,298.38 L464.87,298.43 L465.75,298.46 L466.64,298.50 L467.52,298.52 L468.41,298.55 L469.30,298.57 L470.18,298.58 L471.07,298.60 L471.95,298.61 L472.84,298.62 L473.73,298.63 L474.61,298.64 L475.50,298.65 L476.38,298.65 L477.27,298.66 L478.16,298.66 L479.04,298.67 L479.93,298.67 L480.81,298.67 L481.70,298.68 L482.59,298.68 L483.47,298.68 L484.36,298.68 L485.24,298.68" stroke="#666666" stroke-width="0.7" fill="none" stroke-linejoin="round"/>
<path d="M375.38,299.40 L393.32,299.40 L393.43,298.91 L393.54,298.43 L393.65,297.96 L393.76,297.51 L393.88,297.06 L393.99,296.63 L394.10,296.20 L394.21,295.79 L394.32,295.39 L394.43,295.00 L394.54,294.61 L394.65,294.24 L394.76,293.88 L394.87,293.52 L394.98,293.17 L395.09,292.84 L395.20,292.51 L395.31,292.18 L395.43,291.87 L395.54,291.57 L395.65,291.27 L395.76,290.98 L395.87,290.69 L395.98,290.42 L396.09,290.15 L396.20,289.88 L396.31,289.63 L396.42,289.38 L396.53,289.13 L396.64,288.89 L396.75,288.66 L396.87,288.44 L396.98,288.21 L397.09,288.00 L397.20,287.79 L397.31,287.58 L397.42,287.38 L397.53,287.19 L397.64,287.00 L397.75,286.81 L397.97,286.46 L398.86,285.19 L399.75,284.16 L400.63,283.31 L401.52,282.62 L402.40,282.05 L403.29,281.59 L404.18,281.21 L405.06,280.90 L405.95,280.64 L406.83,280.43 L407.72,280.26 L408.61,280.12 L409.49,280.01 L410.38,279.91 L411.26,279.84 L412.15,279.77 L413.04,279.72 L413.92,279.68 L414.81,279.65 L415.69,279.62 L416.58,279.59 L417.47,279.57 L418.35,279.56 L419.24,279.55 L420.12,279.54 L421.01,279.53 L421.90,279.52 L422.78,279.52 L423.67,279.51 L424.55,279.51 L425.44,279.50 L426.33,279.50 L427.21,279.50 L428.10,279.50 L428.98,279.50 L429.87,279.49 L430.75,279.49 L431.64,279.49 L432.53,279.49 L433.41,279.49 L434.30,279.49 L435.19,279.49 L436.07,279.49 L436.29,280.21 L436.51,280.90 L436.96,282.21 L437.40,283.42 L438.29,285.59 L439.17,287.46 L440.06,289.07 L440.94,290.45 L441.83,291.64 L442.72,292.67 L443.60,293.55 L444.49,294.31 L445.37,294.96 L446.26,295.53 L447.15,296.01 L448.03,296.43 L448.92,296.79 L449.80,297.09 L450.69,297.36 L451.58,297.59 L452.46,297.79 L453.35,297.95 L454.23,298.10 L455.12,298.23 L456.01,298.33 L456.89,298.43 L457.78,298.51 L458.66,298.58 L459.55,298.64 L460.44,298.69 L461.32,298.73 L462.21,298.77 L463.09,298.80 L463.98,298.83 L464.87,298.85 L465.75,298.87 L466.64,298.89 L467.52,298.91 L468.41,298.92 L469.30,298.93 L470.18,298.94 L471.07,298.95 L471.95,298.96 L472.84,298.96 L473.73,298.97 L474.61,298.97 L475.50,298.98 L476.38,298.98 L477.27,298.98 L478.16,298.99 L479.04,298.99 L479.93,298.99 L480.81,298.99 L481.70,298.99 L482.59,298.99 L483.47,299.00 L484.36,299.00 L485.24,299.00" stroke="#666666" stroke-width="0.7" fill="none" stroke-linejoin="round"/>
<path d="M375.38,299.40 L393.32,299.40 L393.43,298.99 L393.54,298.58 L393.65,298.19 L393.76,297.81 L393.88,297.43 L393.99,297.07 L394.10,296.71 L394.21,296.37 L394.32,296.03 L394.43,295.70 L394.54,295.38 L394.65,295.06 L394.76,294.76 L394.87,294.46 L394.98,294.17 L395.09,293.88 L395.20,293.60 L395.31,293.33 L395.43,293.07 L395.54,292.81 L395.65,292.56 L395.76,292.32 L395.87,292.08 L395.98,291.85 L396.09,291.62 L396.20,291.40 L396.31,291.18 L396.42,290.97 L396.53,290.77 L396.64,290.57 L396.75,290.37 L396.87,290.18 L396.98,290.00 L397.09,289.82 L397.20,289.64 L397.31,289.47 L397.42,289.30 L397.53,289.13 L397.64,288.97 L397.75,288.82 L397.97,288.52 L398.86,287.46 L399.75,286.59 L400.63,285.88 L401.52,285.29 L402.40,284.82 L403.29,284.43 L404.18,284.11 L405.06,283.84 L405.95,283.63 L406.83,283.45 L407.72,283.31 L408.61,283.19 L409.49,283.10 L410.38,283.02 L411.26,282.95 L412.15,282.90 L413.04,282.86 L413.92,282.82 L414.81,282.79 L415.69,282.77 L416.58,282.75 L417.47,282.73 L418.35,282.72 L419.24,282.71 L420.12,282.70 L421.01,282.69 L421.90,282.69 L422.78,282.68 L423.67,282.68 L424.55,282.68 L425.44,282.67 L426.33,282.67 L427.21,282.67 L428.10,282.67 L428.98,282.67 L429.87,282.67 L430.75,282.66 L431.64,282.66 L432.53,282.66 L433.41,282.66 L434.30,282.66 L435.19,282.66 L436.07,282.66 L436.29,283.27 L436.51,283.85 L436.96,284.95 L437.40,285.97 L438.29,287.79 L439.17,289.36 L440.06,290.71 L440.94,291.88 L441.83,292.88 L442.72,293.74 L443.60,294.48 L444.49,295.12 L445.37,295.67 L446.26,296.14 L447.15,296.55 L448.03,296.90 L448.92,297.20 L449.80,297.46 L450.69,297.68 L451.58,297.88 L452.46,298.04 L453.35,298.18 L454.23,298.31 L455.12,298.41 L456.01,298.50 L456.89,298.58 L457.78,298.65 L458.66,298.71 L459.55,298.76 L460.44,298.80 L461.32,298.84 L462.21,298.87 L463.09,298.90 L463.98,298.92 L464.87,298.94 L465.75,298.96 L466.64,298.97 L467.52,298.99 L468.41,299.00 L469.30,299.01 L470.18,299.01 L471.07,299.02 L471.95,299.03 L472.84,299.03 L473.73,299.04 L474.61,299.04 L475.50,299.04 L476.38,299.05 L477.27,299.05 L478.16,299.05 L479.04,299.05 L479.93,299.06 L480.81,299.06 L481.70,299.06 L482.59,299.06 L483.47,299.06 L484.36,299.06 L485.24,299.06" stroke="#62aa2e" stroke-width="1.3" fill="none" stroke-linejoin="round"/>
<path d="M375.38,299.40 L393.32,299.40 L393.43,299.12 L393.54,298.85 L393.65,298.59 L393.76,298.33 L393.88,298.07 L393.99,297.83 L394.10,297.59 L394.21,297.36 L394.32,297.13 L394.43,296.91 L394.54,296.69 L394.65,296.48 L394.76,296.27 L394.87,296.07 L394.98,295.87 L395.09,295.68 L395.20,295.50 L395.31,295.31 L395.43,295.14 L395.54,294.96 L395.65,294.79 L395.76,294.63 L395.87,294.47 L395.98,294.31 L396.09,294.16 L396.20,294.01 L396.31,293.86 L396.42,293.72 L396.53,293.58 L396.64,293.45 L396.75,293.32 L396.87,293.19 L396.98,293.07 L397.09,292.94 L397.20,292.82 L397.31,292.71 L397.42,292.59 L397.53,292.48 L397.64,292.38 L397.75,292.27 L397.97,292.07 L398.86,291.35 L399.75,290.77 L400.63,290.29 L401.52,289.90 L402.40,289.57 L403.29,289.31 L404.18,289.10 L405.06,288.92 L405.95,288.78 L406.83,288.66 L407.72,288.56 L408.61,288.48 L409.49,288.42 L410.38,288.36 L411.26,288.32 L412.15,288.28 L413.04,288.25 L413.92,288.23 L414.81,288.21 L415.69,288.20 L416.58,288.18 L417.47,288.17 L418.35,288.16 L419.24,288.16 L420.12,288.15 L421.01,288.14 L421.90,288.14 L422.78,288.14 L423.67,288.14 L424.55,288.13 L425.44,288.13 L426.33,288.13 L427.21,288.13 L428.10,288.13 L428.98,288.13 L429.87,288.13 L430.75,288.13 L431.64,288.13 L432.53,288.12 L433.41,288.12 L434.30,288.12 L435.19,288.12 L436.07,288.12 L436.29,288.53 L436.51,288.92 L436.96,289.66 L437.40,290.35 L438.29,291.58 L439.17,292.64 L440.06,293.55 L440.94,294.33 L441.83,295.01 L442.72,295.59 L443.60,296.09 L444.49,296.52 L445.37,296.89 L446.26,297.21 L447.15,297.48 L448.03,297.72 L448.92,297.92 L449.80,298.09 L450.69,298.24 L451.58,298.37 L452.46,298.49 L453.35,298.58 L454.23,298.66 L455.12,298.74 L456.01,298.80 L456.89,298.85 L457.78,298.89 L458.66,298.93 L459.55,298.97 L460.44,299.00 L461.32,299.02 L462.21,299.04 L463.09,299.06 L463.98,299.08 L464.87,299.09 L465.75,299.10 L466.64,299.11 L467.52,299.12 L468.41,299.13 L469.30,299.13 L470.18,299.14 L471.07,299.14 L471.95,299.15 L472.84,299.15 L473.73,299.16 L474.61,299.16 L475.50,299.16 L476.38,299.16 L477.27,299.16 L478.16,299.17 L479.04,299.17 L479.93,299.17 L480.81,299.17 L481.70,299.17 L482.59,299.17 L483.47,299.17 L484.36,299.17 L485.24,299.17" stroke="#666666" stroke-width="0.7" fill="none" stroke-linejoin="round"/>
<path d="M375.38,299.40 L393.32,299.40 L393.43,299.28 L393.54,299.17 L393.65,299.06 L393.76,298.95 L393.88,298.84 L393.99,298.74 L394.10,298.64 L394.21,298.54 L394.32,298.44 L394.43,298.35 L394.54,298.26 L394.65,298.17 L394.76,298.08 L394.87,298.00 L394.98,297.91 L395.09,297.83 L395.20,297.75 L395.31,297.68 L395.43,297.60 L395.54,297.53 L395.65,297.46 L395.76,297.39 L395.87,297.32 L395.98,297.25 L396.09,297.19 L396.20,297.13 L396.31,297.06 L396.42,297.01 L396.53,296.95 L396.64,296.89 L396.75,296.83 L396.87,296.78 L396.98,296.73 L397.09,296.68 L397.20,296.63 L397.31,296.58 L397.42,296.53 L397.53,296.48 L397.64,296.44 L397.75,296.39 L397.97,296.31 L398.86,296.01 L399.75,295.76 L400.63,295.56 L401.52,295.39 L402.40,295.26 L403.29,295.14 L404.18,295.05 L405.06,294.98 L405.95,294.92 L406.83,294.87 L407.72,294.83 L408.61,294.79 L409.49,294.77 L410.38,294.74 L411.26,294.73 L412.15,294.71 L413.04,294.70 L413.92,294.69 L414.81,294.68 L415.69,294.67 L416.58,294.67 L417.47,294.66 L418.35,294.66 L419.24,294.66 L420.12,294.65 L421.01,294.65 L421.90,294.65 L422.78,294.65 L423.67,294.65 L424.55,294.65 L425.44,294.65 L426.33,294.65 L427.21,294.64 L428.10,294.64 L428.98,294.64 L429.87,294.64 L430.75,294.64 L431.64,294.64 L432.53,294.64 L433.41,294.64 L434.30,294.64 L435.19,294.64 L436.07,294.64 L436.29,294.81 L436.51,294.98 L436.96,295.29 L437.40,295.58 L438.29,296.10 L439.17,296.55 L440.06,296.93 L440.94,297.26 L441.83,297.55 L442.72,297.79 L443.60,298.00 L444.49,298.18 L445.37,298.34 L446.26,298.47 L447.15,298.59 L448.03,298.69 L448.92,298.78 L449.80,298.85 L450.69,298.91 L451.58,298.97 L452.46,299.01 L453.35,299.05 L454.23,299.09 L455.12,299.12 L456.01,299.15 L456.89,299.17 L457.78,299.19 L458.66,299.20 L459.55,299.22 L460.44,299.23 L461.32,299.24 L462.21,299.25 L463.09,299.26 L463.98,299.26 L464.87,299.27 L465.75,299.27 L466.64,299.28 L467.52,299.28 L468.41,299.29 L469.30,299.29 L470.18,299.29 L471.07,299.29 L471.95,299.29 L472.84,299.30 L473.73,299.30 L474.61,299.30 L475.50,299.30 L476.38,299.30 L477.27,299.30 L478.16,299.30 L479.04,299.30 L479.93,299.30 L480.81,299.30 L481.70,299.30 L482.59,299.30 L483.47,299.30 L484.36,299.30 L485.24,299.30" stroke="#1c86a6" stroke-width="1.3" fill="none" stroke-linejoin="round"/>
<path d="M375.38,299.10H393.10" stroke="#5b2a2e" stroke-width="1.1"/>
<line x1="449.80" y1="236.00" x2="459.80" y2="236.00" stroke="#d4586b" stroke-width="1.8"/>
<text x="463.90" y="237.60" font-size="5.4" text-anchor="start" font-weight="normal" fill="#333" stroke="#333" >5000 nM</text>
<line x1="449.80" y1="243.50" x2="459.80" y2="243.50" stroke="#f5902f" stroke-width="1.4"/>
<text x="463.90" y="245.10" font-size="5.4" text-anchor="start" font-weight="normal" fill="#333" stroke="#333" >2500 nM</text>
<line x1="449.80" y1="251.50" x2="459.80" y2="251.50" stroke="#8e4fa8" stroke-width="1.4"/>
<text x="463.90" y="252.70" font-size="5.4" text-anchor="start" font-weight="normal" fill="#333" stroke="#333" >1250 nM</text>
<line x1="449.80" y1="258.50" x2="459.80" y2="258.50" stroke="#62aa2e" stroke-width="1.4"/>
<text x="463.90" y="260.60" font-size="5.4" text-anchor="start" font-weight="normal" fill="#333" stroke="#333" >625 nM</text>
<line x1="449.80" y1="266.50" x2="459.80" y2="266.50" stroke="#1c86a6" stroke-width="1.4"/>
<text x="463.90" y="268.10" font-size="5.4" text-anchor="start" font-weight="normal" fill="#333" stroke="#333" >312.5 nM</text>
</svg>
</body></html>
